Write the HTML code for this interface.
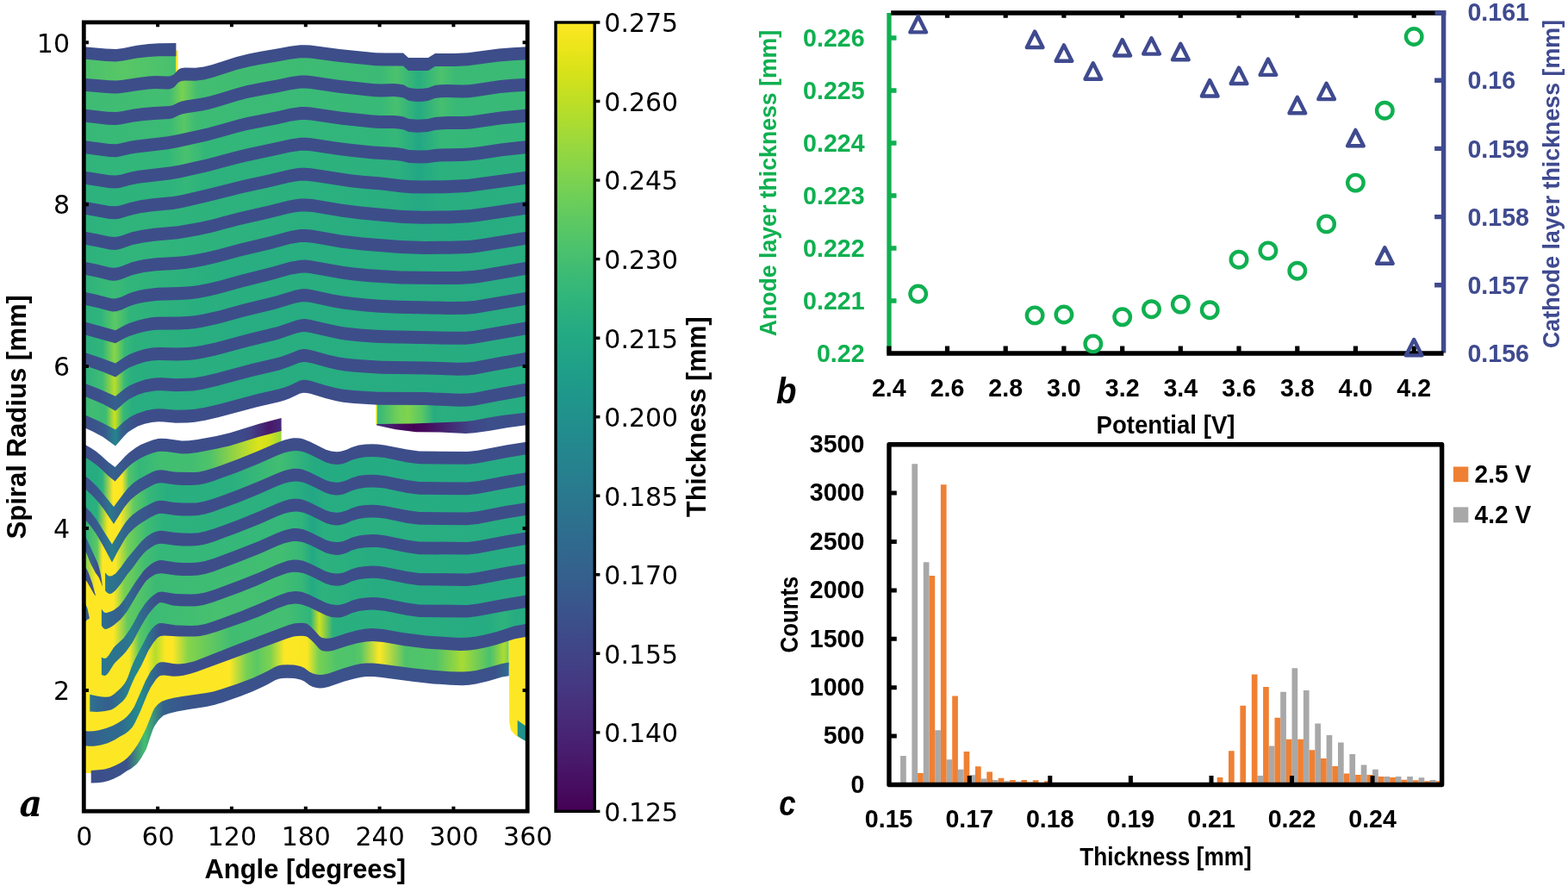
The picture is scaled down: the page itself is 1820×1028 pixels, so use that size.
<!DOCTYPE html>
<html lang="en"><head><meta charset="utf-8"><title>Spiral thickness figure</title><style>html,body{margin:0;padding:0;background:#fff;overflow:hidden}svg{display:block}</style></head><body><svg width="1820" height="1028" viewBox="0 0 1820 1028"><defs><linearGradient id="h1" gradientUnits="userSpaceOnUse" x1="97" x2="204.4" y1="0" y2="0"><stop offset="0" stop-color="#4bc16d"/><stop offset="0.453" stop-color="#58c766"/><stop offset="1" stop-color="#47c06f"/></linearGradient><linearGradient id="h2" gradientUnits="userSpaceOnUse" x1="97" x2="612.6" y1="0" y2="0"><stop offset="0" stop-color="#3ebb74"/><stop offset="0.195" stop-color="#43be71"/><stop offset="0.222" stop-color="#77d153"/><stop offset="0.257" stop-color="#42bd71"/><stop offset="0.669" stop-color="#3bba75"/><stop offset="0.704" stop-color="#4cc26c"/><stop offset="0.755" stop-color="#28ae80"/><stop offset="0.805" stop-color="#4cc26c"/><stop offset="0.837" stop-color="#3bba75"/><stop offset="1" stop-color="#3bba75"/></linearGradient><linearGradient id="h3" gradientUnits="userSpaceOnUse" x1="97" x2="612.6" y1="0" y2="0"><stop offset="0" stop-color="#37b877"/><stop offset="0.195" stop-color="#3cbb75"/><stop offset="0.226" stop-color="#58c765"/><stop offset="0.249" stop-color="#40bc72"/><stop offset="0.268" stop-color="#3cbb75"/><stop offset="0.669" stop-color="#38b977"/><stop offset="0.704" stop-color="#47c06f"/><stop offset="0.755" stop-color="#25aa83"/><stop offset="0.805" stop-color="#46bf6f"/><stop offset="0.837" stop-color="#38b977"/><stop offset="1" stop-color="#39b976"/></linearGradient><linearGradient id="h4" gradientUnits="userSpaceOnUse" x1="97" x2="612.6" y1="0" y2="0"><stop offset="0" stop-color="#30b47b"/><stop offset="0.191" stop-color="#33b779"/><stop offset="0.23" stop-color="#49c16e"/><stop offset="0.272" stop-color="#33b779"/><stop offset="0.673" stop-color="#31b57b"/><stop offset="0.704" stop-color="#36b878"/><stop offset="0.755" stop-color="#22a785"/><stop offset="0.805" stop-color="#36b878"/><stop offset="1" stop-color="#32b67a"/></linearGradient><linearGradient id="h5" gradientUnits="userSpaceOnUse" x1="97" x2="612.6" y1="0" y2="0"><stop offset="0" stop-color="#2db27d"/><stop offset="0.195" stop-color="#2fb37c"/><stop offset="0.23" stop-color="#34b779"/><stop offset="0.272" stop-color="#2db27d"/><stop offset="0.704" stop-color="#2cb17e"/><stop offset="0.755" stop-color="#22a785"/><stop offset="0.802" stop-color="#2bb17e"/><stop offset="1" stop-color="#2cb17e"/></linearGradient><linearGradient id="h6" gradientUnits="userSpaceOnUse" x1="97" x2="612.6" y1="0" y2="0"><stop offset="0" stop-color="#2db27d"/><stop offset="0.109" stop-color="#30b47b"/><stop offset="0.704" stop-color="#29ae80"/><stop offset="0.755" stop-color="#24a984"/><stop offset="0.802" stop-color="#28ae80"/><stop offset="1" stop-color="#29af80"/></linearGradient><linearGradient id="h7" gradientUnits="userSpaceOnUse" x1="97" x2="612.6" y1="0" y2="0"><stop offset="0" stop-color="#2db27d"/><stop offset="0.113" stop-color="#31b57b"/><stop offset="0.755" stop-color="#26ab82"/><stop offset="1" stop-color="#28ae80"/></linearGradient><linearGradient id="h8" gradientUnits="userSpaceOnUse" x1="97" x2="612.6" y1="0" y2="0"><stop offset="0" stop-color="#2db27d"/><stop offset="0.07" stop-color="#3aba76"/><stop offset="0.101" stop-color="#31b57a"/><stop offset="0.311" stop-color="#28ae80"/><stop offset="1" stop-color="#28ae80"/></linearGradient><linearGradient id="h9" gradientUnits="userSpaceOnUse" x1="97" x2="612.6" y1="0" y2="0"><stop offset="0" stop-color="#2bb17e"/><stop offset="0.039" stop-color="#2fb47c"/><stop offset="0.07" stop-color="#5bc864"/><stop offset="0.105" stop-color="#30b47b"/><stop offset="0.253" stop-color="#29af7f"/><stop offset="1" stop-color="#27ad81"/></linearGradient><linearGradient id="h10" gradientUnits="userSpaceOnUse" x1="97" x2="612.6" y1="0" y2="0"><stop offset="0" stop-color="#29af7f"/><stop offset="0.043" stop-color="#31b57b"/><stop offset="0.07" stop-color="#88d548"/><stop offset="0.093" stop-color="#37b877"/><stop offset="0.113" stop-color="#2cb17d"/><stop offset="0.339" stop-color="#27ad81"/><stop offset="1" stop-color="#27ad81"/></linearGradient><linearGradient id="h11" gradientUnits="userSpaceOnUse" x1="97" x2="612.6" y1="0" y2="0"><stop offset="0" stop-color="#2bb17e"/><stop offset="0.043" stop-color="#40bc73"/><stop offset="0.07" stop-color="#b7dd2a"/><stop offset="0.093" stop-color="#36b878"/><stop offset="0.109" stop-color="#29af7f"/><stop offset="1" stop-color="#27ac81"/></linearGradient><linearGradient id="h12" gradientUnits="userSpaceOnUse" x1="97" x2="612.6" y1="0" y2="0"><stop offset="0" stop-color="#35b778"/><stop offset="0.019" stop-color="#40bd72"/><stop offset="0.043" stop-color="#3cba75"/><stop offset="0.051" stop-color="#41bd72"/><stop offset="0.07" stop-color="#cee11e"/><stop offset="0.089" stop-color="#3aba75"/><stop offset="0.109" stop-color="#28ae80"/><stop offset="1" stop-color="#26ac81"/></linearGradient><linearGradient id="h13" gradientUnits="userSpaceOnUse" x1="437.2" x2="612.6" y1="0" y2="0"><stop offset="0" stop-color="#32b67a"/><stop offset="0.149" stop-color="#74d055"/><stop offset="0.207" stop-color="#7fd34e"/><stop offset="0.299" stop-color="#5ac764"/><stop offset="0.379" stop-color="#27ac81"/><stop offset="0.437" stop-color="#2aaf7f"/><stop offset="1" stop-color="#26ac82"/></linearGradient><linearGradient id="h14" gradientUnits="userSpaceOnUse" x1="97" x2="326.6" y1="0" y2="0"><stop offset="0" stop-color="#26ac81"/><stop offset="0.07" stop-color="#27ac81"/><stop offset="0.096" stop-color="#2eb37d"/><stop offset="0.149" stop-color="#fde725"/><stop offset="0.193" stop-color="#fde725"/><stop offset="0.228" stop-color="#51c46a"/><stop offset="0.281" stop-color="#33b779"/><stop offset="0.395" stop-color="#42be71"/><stop offset="0.553" stop-color="#43be71"/><stop offset="0.64" stop-color="#4fc36a"/><stop offset="0.886" stop-color="#dde31a"/><stop offset="0.939" stop-color="#d2e11c"/><stop offset="1" stop-color="#9bd93c"/></linearGradient><linearGradient id="h15" gradientUnits="userSpaceOnUse" x1="97" x2="612.6" y1="0" y2="0"><stop offset="0" stop-color="#26ac81"/><stop offset="0.031" stop-color="#2cb17e"/><stop offset="0.054" stop-color="#f2e61f"/><stop offset="0.058" stop-color="#fde725"/><stop offset="0.082" stop-color="#fde725"/><stop offset="0.113" stop-color="#60ca61"/><stop offset="0.148" stop-color="#35b779"/><stop offset="0.183" stop-color="#29af7f"/><stop offset="0.331" stop-color="#29af80"/><stop offset="0.44" stop-color="#42be71"/><stop offset="0.518" stop-color="#25ab82"/><stop offset="1" stop-color="#26ac82"/></linearGradient><linearGradient id="h16" gradientUnits="userSpaceOnUse" x1="122.1" x2="612.6" y1="0" y2="0"><stop offset="0" stop-color="#fde725"/><stop offset="0.024" stop-color="#fde725"/><stop offset="0.053" stop-color="#72d056"/><stop offset="0.098" stop-color="#3dbb74"/><stop offset="0.139" stop-color="#2db27d"/><stop offset="0.445" stop-color="#2aaf7f"/><stop offset="0.49" stop-color="#22a685"/><stop offset="0.518" stop-color="#27ad81"/><stop offset="1" stop-color="#26ac82"/></linearGradient><linearGradient id="h17" gradientUnits="userSpaceOnUse" x1="122.1" x2="612.6" y1="0" y2="0"><stop offset="0" stop-color="#fde725"/><stop offset="0.02" stop-color="#fde725"/><stop offset="0.045" stop-color="#77d153"/><stop offset="0.094" stop-color="#42bd71"/><stop offset="0.131" stop-color="#34b779"/><stop offset="0.416" stop-color="#35b878"/><stop offset="0.465" stop-color="#2fb47c"/><stop offset="0.49" stop-color="#22a685"/><stop offset="0.518" stop-color="#2ab07f"/><stop offset="1" stop-color="#26ac82"/></linearGradient><linearGradient id="h18" gradientUnits="userSpaceOnUse" x1="117.9" x2="612.6" y1="0" y2="0"><stop offset="0" stop-color="#fde725"/><stop offset="0.028" stop-color="#fde725"/><stop offset="0.061" stop-color="#62ca5f"/><stop offset="0.126" stop-color="#3cba75"/><stop offset="0.421" stop-color="#42be71"/><stop offset="0.47" stop-color="#37b877"/><stop offset="0.494" stop-color="#23a884"/><stop offset="0.518" stop-color="#2db27d"/><stop offset="0.628" stop-color="#27ac81"/><stop offset="1" stop-color="#26ac82"/></linearGradient><linearGradient id="h19" gradientUnits="userSpaceOnUse" x1="117.9" x2="612.6" y1="0" y2="0"><stop offset="0" stop-color="#fde725"/><stop offset="0.065" stop-color="#f9e723"/><stop offset="0.089" stop-color="#5ac764"/><stop offset="0.117" stop-color="#3cbb75"/><stop offset="0.267" stop-color="#47c06f"/><stop offset="0.421" stop-color="#42be71"/><stop offset="0.47" stop-color="#37b877"/><stop offset="0.494" stop-color="#24aa83"/><stop offset="0.518" stop-color="#2db27d"/><stop offset="0.64" stop-color="#27ac81"/><stop offset="1" stop-color="#26ac82"/></linearGradient><linearGradient id="h20" gradientUnits="userSpaceOnUse" x1="104.3" x2="612.6" y1="0" y2="0"><stop offset="0" stop-color="#fde725"/><stop offset="0.13" stop-color="#fde725"/><stop offset="0.15" stop-color="#b3dd2d"/><stop offset="0.173" stop-color="#fde725"/><stop offset="0.189" stop-color="#fde725"/><stop offset="0.224" stop-color="#86d44a"/><stop offset="0.323" stop-color="#41bd72"/><stop offset="0.449" stop-color="#44be71"/><stop offset="0.504" stop-color="#31b57b"/><stop offset="0.524" stop-color="#cfe11d"/><stop offset="0.555" stop-color="#2ab07f"/><stop offset="0.909" stop-color="#26ac81"/><stop offset="0.945" stop-color="#2eb37d"/><stop offset="0.969" stop-color="#27ac81"/><stop offset="1" stop-color="#26ac82"/></linearGradient><linearGradient id="h21" gradientUnits="userSpaceOnUse" x1="105.7" x2="590.7" y1="0" y2="0"><stop offset="0" stop-color="#fde725"/><stop offset="0.331" stop-color="#fde725"/><stop offset="0.372" stop-color="#76d054"/><stop offset="0.397" stop-color="#5bc864"/><stop offset="0.43" stop-color="#7ed24f"/><stop offset="0.463" stop-color="#fde725"/><stop offset="0.517" stop-color="#f9e723"/><stop offset="0.545" stop-color="#76d153"/><stop offset="0.587" stop-color="#51c469"/><stop offset="0.628" stop-color="#4ec36b"/><stop offset="0.645" stop-color="#59c765"/><stop offset="0.69" stop-color="#fde725"/><stop offset="0.752" stop-color="#4ec36b"/><stop offset="0.826" stop-color="#53c568"/><stop offset="0.888" stop-color="#a7db34"/><stop offset="0.955" stop-color="#49c16e"/><stop offset="0.988" stop-color="#acdc31"/><stop offset="1" stop-color="#73d055"/></linearGradient><linearGradient id="h22" gradientUnits="userSpaceOnUse" x1="97" x2="119" y1="0" y2="0"><stop offset="0" stop-color="#2ab07f"/><stop offset="0.727" stop-color="#5dc863"/><stop offset="1" stop-color="#fde725"/></linearGradient><linearGradient id="h23" gradientUnits="userSpaceOnUse" x1="97" x2="111" y1="0" y2="0"><stop offset="0" stop-color="#64cb5e"/><stop offset="1" stop-color="#fde725"/></linearGradient><linearGradient id="h24" gradientUnits="userSpaceOnUse" x1="97" x2="204.4" y1="0" y2="0"><stop offset="0" stop-color="#3d4d8a"/><stop offset="1" stop-color="#3c4e8a"/></linearGradient><linearGradient id="h25" gradientUnits="userSpaceOnUse" x1="97" x2="612.6" y1="0" y2="0"><stop offset="0" stop-color="#3d4d8a"/><stop offset="0.072" stop-color="#3a548c"/><stop offset="0.122" stop-color="#3d4d8a"/><stop offset="1" stop-color="#3d4d8a"/></linearGradient><linearGradient id="h26" gradientUnits="userSpaceOnUse" x1="97" x2="612.6" y1="0" y2="0"><stop offset="0" stop-color="#3d4d8a"/><stop offset="0.044" stop-color="#3b518b"/><stop offset="0.072" stop-color="#34608d"/><stop offset="0.122" stop-color="#3d4d8a"/><stop offset="1" stop-color="#3d4d8a"/></linearGradient><linearGradient id="h27" gradientUnits="userSpaceOnUse" x1="97" x2="612.6" y1="0" y2="0"><stop offset="0" stop-color="#3d4d8a"/><stop offset="0.048" stop-color="#385a8d"/><stop offset="0.072" stop-color="#25858e"/><stop offset="0.087" stop-color="#355f8d"/><stop offset="0.122" stop-color="#3d4d8a"/><stop offset="1" stop-color="#3d4d8a"/></linearGradient><linearGradient id="h28" gradientUnits="userSpaceOnUse" x1="437.2" x2="612.6" y1="0" y2="0"><stop offset="0" stop-color="#46347f"/><stop offset="0.148" stop-color="#470e61"/><stop offset="0.25" stop-color="#440255"/><stop offset="0.33" stop-color="#470b5e"/><stop offset="0.625" stop-color="#404688"/><stop offset="0.75" stop-color="#3c4f8a"/><stop offset="1" stop-color="#3d4d8a"/></linearGradient><linearGradient id="h29" gradientUnits="userSpaceOnUse" x1="97" x2="326.6" y1="0" y2="0"><stop offset="0" stop-color="#3d4d8a"/><stop offset="0.089" stop-color="#3b518b"/><stop offset="0.151" stop-color="#34618d"/><stop offset="0.237" stop-color="#3c508b"/><stop offset="0.792" stop-color="#3d4b8a"/><stop offset="0.844" stop-color="#414387"/><stop offset="0.939" stop-color="#48186a"/><stop offset="1" stop-color="#472978"/></linearGradient><linearGradient id="h30" gradientUnits="userSpaceOnUse" x1="97" x2="612.6" y1="0" y2="0"><stop offset="0" stop-color="#3d4d8a"/><stop offset="0.038" stop-color="#375a8d"/><stop offset="0.06" stop-color="#2b768e"/><stop offset="0.095" stop-color="#375b8d"/><stop offset="0.173" stop-color="#3d4d8a"/><stop offset="1" stop-color="#3d4d8a"/></linearGradient><linearGradient id="h31" gradientUnits="userSpaceOnUse" x1="97" x2="612.6" y1="0" y2="0"><stop offset="0" stop-color="#3d4d8a"/><stop offset="0.036" stop-color="#355f8d"/><stop offset="0.064" stop-color="#287c8e"/><stop offset="0.095" stop-color="#34628d"/><stop offset="0.173" stop-color="#3d4d8a"/><stop offset="1" stop-color="#3d4d8a"/></linearGradient><linearGradient id="h32" gradientUnits="userSpaceOnUse" x1="122.1" x2="612.6" y1="0" y2="0"><stop offset="0" stop-color="#29798e"/><stop offset="0.131" stop-color="#3d4d8a"/><stop offset="1" stop-color="#3d4d8a"/></linearGradient><linearGradient id="h33" gradientUnits="userSpaceOnUse" x1="117.9" x2="612.6" y1="0" y2="0"><stop offset="0" stop-color="#2e6e8e"/><stop offset="0.04" stop-color="#35608d"/><stop offset="0.061" stop-color="#2f6b8e"/><stop offset="0.101" stop-color="#3d4d8a"/><stop offset="1" stop-color="#3d4d8a"/></linearGradient><linearGradient id="h34" gradientUnits="userSpaceOnUse" x1="117.9" x2="612.6" y1="0" y2="0"><stop offset="0" stop-color="#2a778e"/><stop offset="0.049" stop-color="#2c728e"/><stop offset="0.073" stop-color="#297a8e"/><stop offset="0.13" stop-color="#3c4e8a"/><stop offset="1" stop-color="#3d4d8a"/></linearGradient><linearGradient id="h35" gradientUnits="userSpaceOnUse" x1="104.3" x2="612.6" y1="0" y2="0"><stop offset="0" stop-color="#2d718e"/><stop offset="0.043" stop-color="#355f8d"/><stop offset="0.094" stop-color="#25848e"/><stop offset="0.118" stop-color="#25858e"/><stop offset="0.161" stop-color="#3c4f8a"/><stop offset="0.185" stop-color="#3c4e8a"/><stop offset="1" stop-color="#3d4d8a"/></linearGradient><linearGradient id="h36" gradientUnits="userSpaceOnUse" x1="97" x2="612.6" y1="0" y2="0"><stop offset="0" stop-color="#365c8d"/><stop offset="0.054" stop-color="#30698e"/><stop offset="0.081" stop-color="#30698e"/><stop offset="0.128" stop-color="#228c8d"/><stop offset="0.171" stop-color="#38598d"/><stop offset="0.202" stop-color="#3c4e8a"/><stop offset="1" stop-color="#3d4d8a"/></linearGradient><linearGradient id="h37" gradientUnits="userSpaceOnUse" x1="105.7" x2="590.7" y1="0" y2="0"><stop offset="0" stop-color="#3d4d8a"/><stop offset="0.086" stop-color="#3a538b"/><stop offset="0.128" stop-color="#44be70"/><stop offset="0.173" stop-color="#34618d"/><stop offset="0.23" stop-color="#3a558c"/><stop offset="0.403" stop-color="#3b518b"/><stop offset="0.967" stop-color="#3b528b"/><stop offset="1" stop-color="#2f6c8e"/></linearGradient><linearGradient id="h38" gradientUnits="userSpaceOnUse" x1="97" x2="119" y1="0" y2="0"><stop offset="0" stop-color="#3a548c"/><stop offset="0.364" stop-color="#32658d"/><stop offset="0.727" stop-color="#3c4e8a"/><stop offset="1" stop-color="#3c4e8a"/></linearGradient><linearGradient id="h39" gradientUnits="userSpaceOnUse" x1="97" x2="103.6" y1="0" y2="0"><stop offset="0" stop-color="#287c8e"/><stop offset="1" stop-color="#3d4d8a"/></linearGradient><linearGradient id="cb" x1="0" x2="0" y1="0" y2="1"><stop offset="0" stop-color="#fde725"/><stop offset="0.0312" stop-color="#ece51b"/><stop offset="0.0625" stop-color="#d8e219"/><stop offset="0.0938" stop-color="#c2df23"/><stop offset="0.125" stop-color="#addc30"/><stop offset="0.1562" stop-color="#98d83e"/><stop offset="0.1875" stop-color="#84d44b"/><stop offset="0.2188" stop-color="#70cf57"/><stop offset="0.25" stop-color="#5ec962"/><stop offset="0.2812" stop-color="#4ec36b"/><stop offset="0.3125" stop-color="#3fbc73"/><stop offset="0.3438" stop-color="#32b67a"/><stop offset="0.375" stop-color="#28ae80"/><stop offset="0.4062" stop-color="#22a785"/><stop offset="0.4375" stop-color="#1fa088"/><stop offset="0.4688" stop-color="#1f988b"/><stop offset="0.5" stop-color="#21918c"/><stop offset="0.5312" stop-color="#23898e"/><stop offset="0.5625" stop-color="#26828e"/><stop offset="0.5938" stop-color="#297a8e"/><stop offset="0.625" stop-color="#2c728e"/><stop offset="0.6562" stop-color="#2f6b8e"/><stop offset="0.6875" stop-color="#33638d"/><stop offset="0.7188" stop-color="#375b8d"/><stop offset="0.75" stop-color="#3b528b"/><stop offset="0.7812" stop-color="#3e4989"/><stop offset="0.8125" stop-color="#424086"/><stop offset="0.8438" stop-color="#453781"/><stop offset="0.875" stop-color="#472d7b"/><stop offset="0.9062" stop-color="#482374"/><stop offset="0.9375" stop-color="#48186a"/><stop offset="0.9688" stop-color="#470d60"/><stop offset="1" stop-color="#440154"/></linearGradient><filter id="soft" filterUnits="userSpaceOnUse" x="-10" y="-10" width="1840" height="1048" color-interpolation-filters="sRGB"><feGaussianBlur stdDeviation="0.55"/></filter></defs><rect width="1820" height="1028" fill="#fff"/><g filter="url(#soft)"><rect x="-10" y="-10" width="1840" height="1048" fill="#fff"/><g id="heat"><path d="M97,606L127,606L127,812L106.5,812L106.5,897L97,897Z" fill="#fde725"/><path d="M97,64.6L121.3,67L133.5,67.5L139.6,67.1L157.8,63.7L174,61.8L186.2,61.2L204.4,61.2L204.4,87.6L202.4,89.9L200.3,91.3L196.3,92.4L192.2,92.6L180.1,92.1L172,92.5L159.8,94L141.6,96.9L135.5,97.5L127.4,97.4L97,94.7Z" fill="url(#h1)"/><path d="M97,101.7L127.1,104.4L135.1,104.6L141.1,104L159.2,101.1L171.2,99.6L179.3,99.1L193.3,99.6L197.3,99.2L199.3,98.7L201.3,97.7L207.3,91.5L209.3,90.5L211.4,89.9L215.4,89.6L223.4,89.9L227.4,89.7L237.4,88.2L247.5,85.7L273.5,77.4L287.6,73.7L301.6,70.9L323.7,67.2L335.7,64.9L347.8,63.3L353.8,63.1L359.8,63.6L393.9,68.1L436.1,72.2L446.1,72.5L468.2,72.5L474.2,78L496.2,78L498.2,77.2L504.3,73.5L506.3,73L526.3,72.9L542.4,72.3L550.4,71.5L578.5,67.6L594.5,66.3L612.6,65.3L612.6,94.7L594.5,95.9L580.5,97.2L546.4,102L538.4,102.4L518.3,102L510.3,102.4L504.3,103.2L498.2,105.5L496.2,106L490.2,106.7L484.2,106.9L478.2,106.4L474.2,105.6L468.2,102.5L462.1,101.3L456.1,101L440.1,101.5L434,101.1L393.9,96.9L359.8,92L353.8,91.5L347.8,91.7L337.7,93.1L323.7,96.2L301.6,100L285.6,103.4L275.6,106L251.5,113.4L241.4,116.1L233.4,117.8L217.4,120.2L211.4,121.4L207.3,122.8L201.3,125.9L197.3,126.8L177.2,128L167.2,128.9L155.2,130.6L141.1,133.3L135.1,134.1L125.1,133.7L97,130.5Z" fill="url(#h2)"/><path d="M97,137.5L125.1,140.7L135.1,141.1L141.1,140.3L155.2,137.6L167.2,135.9L177.2,135L197.3,133.8L201.3,132.9L207.3,129.8L211.4,128.4L217.4,127.2L233.4,124.8L241.4,123.1L251.5,120.4L275.6,113L285.6,110.4L301.6,107L323.7,103.2L337.7,100.1L347.8,98.7L353.8,98.5L359.8,99L393.9,103.9L434,108.1L440.1,108.5L456.1,108L462.1,108.3L468.2,109.5L474.2,112.6L478.2,113.4L484.2,113.9L490.2,113.7L496.2,113L498.2,112.5L504.3,110.2L510.3,109.4L518.3,109L538.4,109.4L546.4,109L580.5,104.2L594.5,102.9L612.6,101.7L612.6,130.5L580.5,133.6L546.4,138.6L538.4,139L512.3,139.3L504.3,140.2L496.2,142.1L490.2,142.7L484.2,142.8L478.2,142.4L474.2,141.7L468.2,139.5L462.1,138.4L456.1,138L440.1,137.9L432,137.3L395.9,133.6L359.8,128.4L353.8,128L347.8,128.1L337.7,129.6L321.7,133.1L287.6,139.9L275.6,142.8L249.5,150.3L239.4,153L205.3,160.4L195.3,162.2L157.2,166.8L151.2,167.8L139.1,170.6L135.1,171.1L127.1,170.9L97,166.9Z" fill="url(#h3)"/><path d="M97,173.9L127.1,177.9L135.1,178.1L139.1,177.6L151.2,174.8L157.2,173.8L195.3,169.2L205.3,167.4L239.4,160L249.5,157.3L275.6,149.8L287.6,146.9L321.7,140.1L337.7,136.6L347.8,135.1L353.8,135L359.8,135.4L395.9,140.6L432,144.3L440.1,144.9L456.1,145L462.1,145.4L468.2,146.5L474.2,148.7L478.2,149.4L484.2,149.8L490.2,149.7L496.2,149.1L504.3,147.2L512.3,146.3L538.4,146L546.4,145.6L580.5,140.6L612.6,137.5L612.6,166.9L580.5,170.5L546.4,175.4L536.4,176L512.3,176.5L504.3,177.2L496.2,178.3L486.2,178.6L474.2,177.8L468.2,176.4L460.1,175.3L434,173.5L412,171.4L393.9,169.2L363.8,164.6L355.8,163.8L349.8,163.7L343.8,164.4L335.7,165.7L319.7,169.4L285.6,176.5L273.5,179.5L241.4,188.2L207.3,195.8L197.3,197.4L169.2,200.6L159.2,202.1L151.2,203.7L137.1,207.3L133.1,207.6L127.1,207.2L97,202.6Z" fill="url(#h4)"/><path d="M97,209.6L127.1,214.2L133.1,214.6L137.1,214.3L151.2,210.7L159.2,209.1L169.2,207.6L197.3,204.4L207.3,202.8L241.4,195.2L273.5,186.5L285.6,183.5L319.7,176.4L335.7,172.7L343.8,171.4L349.8,170.7L355.8,170.8L363.8,171.6L393.9,176.2L412,178.4L434,180.5L460.1,182.3L468.2,183.4L474.2,184.8L486.2,185.6L496.2,185.3L504.3,184.2L512.3,183.5L536.4,183L546.4,182.4L580.5,177.5L612.6,173.9L612.6,202.6L578.5,207L552.4,210.8L542.4,211.9L516.3,213.3L490.2,213.6L468.2,212.6L442.1,209.6L418,207.5L397.9,205L363.8,199.6L355.8,198.8L349.8,198.8L343.8,199.4L335.7,200.8L309.7,207L283.6,212.5L239.4,223.7L211.4,230.1L201.3,231.8L177.2,234.2L163.2,236.2L151.2,238.8L141.1,242L137.1,243L133.1,243.3L127.1,242.9L97,237.6Z" fill="url(#h5)"/><path d="M97,244.6L127.1,249.9L133.1,250.3L137.1,250L141.1,249L151.2,245.8L163.2,243.2L177.2,241.2L201.3,238.8L211.4,237.1L239.4,230.7L283.6,219.5L309.7,214L335.7,207.8L343.8,206.4L349.8,205.8L355.8,205.8L363.8,206.6L397.9,212L418,214.5L442.1,216.6L468.2,219.6L490.2,220.6L516.3,220.3L542.4,218.9L552.4,217.8L578.5,214L612.6,209.6L612.6,237.6L554.4,246.1L544.4,247.3L520.3,248.5L490.2,248.7L466.1,247.8L418,243.4L395.9,240.6L363.8,235.3L355.8,234.4L349.8,234.4L343.8,235.1L335.7,236.6L311.7,242.6L279.6,249.9L247.5,258.3L231.4,262L207.3,266.3L179.3,268.7L165.2,270.6L153.2,273.3L141.1,277.5L135.1,278.9L131.1,279L127.1,278.5L113,275.5L97,272.6Z" fill="url(#h6)"/><path d="M97,279.6L113,282.5L127.1,285.5L131.1,286L135.1,285.9L141.1,284.5L153.2,280.3L165.2,277.6L179.3,275.7L207.3,273.3L231.4,269L247.5,265.3L279.6,256.9L311.7,249.6L335.7,243.6L343.8,242.1L349.8,241.4L355.8,241.4L363.8,242.3L395.9,247.6L418,250.4L466.1,254.8L490.2,255.7L520.3,255.5L544.4,254.3L554.4,253.1L612.6,244.6L612.6,272.6L556.4,281.4L546.4,282.7L524.3,283.8L492.2,283.8L464.1,283L420,279.5L395.9,276.6L361.8,270.7L355.8,270L349.8,270L343.8,270.7L335.7,272.3L315.7,277.8L281.6,286L251.5,293.9L237.4,297.2L225.4,299.5L213.4,301L203.3,301.9L181.3,303.2L167.2,305L159.2,306.6L153.2,308.2L139.1,313.7L135.1,314.6L131.1,314.7L127.1,314.2L113,310.8L97,307.6Z" fill="url(#h7)"/><path d="M97,314.6L113,317.8L127.1,321.2L131.1,321.7L135.1,321.6L139.1,320.7L153.2,315.2L159.2,313.6L167.2,312L181.3,310.2L203.3,308.9L213.4,308L225.4,306.5L237.4,304.2L251.5,300.9L281.6,293L315.7,284.8L335.7,279.3L343.8,277.7L349.8,277L355.8,277L361.8,277.7L395.9,283.6L420,286.5L464.1,290L492.2,290.8L524.3,290.8L546.4,289.7L556.4,288.4L612.6,279.6L612.6,307.6L558.4,316.7L548.4,318.1L532.4,319L506.3,319.1L464.1,318.4L444.1,317.4L426,316L410,314.4L397.9,312.9L361.8,306.3L355.8,305.7L349.8,305.6L343.8,306.4L335.7,308.1L313.7,314.4L279.6,323L251.5,330.5L239.4,333.3L229.4,335.2L221.4,336.2L209.3,336.9L183.3,337.7L169.2,339.3L161.2,341L153.2,343.2L149.2,344.7L139.1,349.3L135.1,350.3L131.1,350.4L127.1,349.8L113,346.1L97,342.6Z" fill="url(#h8)"/><path d="M97,349.6L113,353.1L127.1,356.8L131.1,357.4L135.1,357.3L139.1,356.3L149.2,351.7L153.2,350.2L161.2,348L169.2,346.3L183.3,344.7L209.3,343.9L221.4,343.2L229.4,342.2L239.4,340.3L251.5,337.5L279.6,330L313.7,321.4L335.7,315.1L343.8,313.4L349.8,312.6L355.8,312.7L361.8,313.3L397.9,319.9L410,321.4L426,323L444.1,324.4L464.1,325.4L506.3,326.1L532.4,326L548.4,325.1L558.4,323.7L612.6,314.6L612.6,342.6L550.4,352.9L540.4,353.8L520.3,353.9L462.1,352.7L442.1,351.8L424,350.4L410,349.1L397.9,347.5L387.9,345.7L361.8,340.1L355.8,339.3L349.8,339.2L341.8,340.9L321.7,347L281.6,357L253.5,364.6L235.4,368.6L225.4,370.3L215.4,371.2L181.3,371.8L175.2,372.4L167.2,373.9L159.2,376L151.2,378.6L145.1,381.2L135.1,386.6L133.1,387L97,376.9Z" fill="url(#h9)"/><path d="M97,383.9L133.1,394L135.1,393.6L145.1,388.2L151.2,385.6L159.2,383L167.2,380.9L175.2,379.4L181.3,378.8L215.4,378.2L225.4,377.3L235.4,375.6L253.5,371.6L281.6,364L321.7,354L341.8,347.9L349.8,346.2L355.8,346.3L361.8,347.1L387.9,352.7L397.9,354.5L410,356.1L424,357.4L442.1,358.8L462.1,359.7L520.3,360.9L540.4,360.8L550.4,359.9L612.6,349.6L612.6,376.9L550.4,387.8L540.4,388.7L526.3,388.8L450.1,387.3L434,386.6L416,385.2L404,384L393.9,382.5L383.9,380.5L361.8,375.2L355.8,374.2L351.8,374.1L345.8,375.2L321.7,383.1L287.6,391.4L251.5,401.1L235.4,404.6L225.4,406.2L217.4,407L205.3,407.4L183.3,407L177.2,407.5L169.2,408.9L161.2,411.1L151.2,414.8L145.1,418L135.1,424.7L133.1,425.1L115.1,418.6L97,412.6Z" fill="url(#h10)"/><path d="M97,419.6L119.1,427.3L133.1,433.1L135.1,432.6L145.1,425.4L151.2,422L159.2,418.7L167.2,416.4L175.2,414.7L181.3,414.1L187.3,413.9L205.3,414.4L213.4,414.2L225.4,413.2L235.4,411.6L251.5,408.1L287.6,398.4L321.7,390.1L345.8,382.2L351.8,381.1L355.8,381.2L361.8,382.2L383.9,387.5L393.9,389.5L404,391L416,392.2L434,393.6L450.1,394.3L526.3,395.8L540.4,395.7L550.4,394.8L612.6,383.9L612.6,412.6L576.5,418.8L550.4,423.7L542.4,424.5L530.3,424.7L496.2,423.4L442.1,422.7L412,420.7L399.9,419.4L391.9,418.1L379.9,415.3L361.8,410.4L355.8,409.2L351.8,409.1L347.8,409.8L331.7,416.1L323.7,418.7L297.6,424.8L253.5,436.5L237.4,440.2L227.4,441.9L217.4,442.9L205.3,443.2L189.3,442.3L183.3,442.3L177.2,442.8L169.2,444.3L159.2,447.5L151.2,451L145.1,454.7L135.1,462.7L133.1,463.3L115.1,455.3L97,448.3Z" fill="url(#h11)"/><path d="M97,455.3L119.1,464.6L133.1,472.2L135.1,471.6L145.1,462.6L151.2,458.5L159.2,454.5L169.2,451.3L177.2,449.8L183.3,449.3L189.3,449.3L205.3,450.2L217.4,449.9L227.4,448.9L237.4,447.2L253.5,443.5L297.6,431.8L323.7,425.7L331.7,423.1L347.8,416.8L351.8,416.1L355.8,416.2L361.8,417.4L379.9,422.3L391.9,425.1L399.9,426.4L412,427.7L442.1,429.7L496.2,430.4L530.3,431.7L542.4,431.5L550.4,430.7L576.5,425.8L612.6,419.6L612.6,448.3L578.5,454.2L550.4,459.8L542.4,460.7L532.4,460.8L494.2,459.1L438.1,458.7L410,457L397.9,455.6L389.9,454.2L377.9,451.1L359.8,445.7L355.8,444.9L351.8,444.7L347.8,445.7L337.7,450.6L325.7,454.9L297.6,461.4L253.5,473.2L237.4,476.8L227.4,478.6L217.4,479.5L203.3,479.7L189.3,478.5L183.3,478.3L177.2,478.8L169.2,480.4L159.2,483.9L151.2,487.9L145.1,492.2L135.1,501.5L133.1,502.1L115.1,492.7L97,484.7Z" fill="url(#h12)"/><path d="M437.2,465.7L493.7,466.1L527.9,467.7L542,467.7L554.1,466.2L576.3,461.7L612.6,455.3L612.6,482.4L586.4,485.5L568.2,488.4L550.1,491.8L538,493.2L475.5,495.6L459.4,494.8L437.2,492.8Z" fill="url(#h13)"/><path d="M97,525.6L105.1,530.4L113.1,536.2L117.1,539.7L125.2,547.7L133.3,554.3L135.3,552.6L147.4,539.2L153.4,533.9L157.4,531L163.5,527.4L171.5,523.8L177.6,521.5L183.6,520L187.6,519.8L193.7,520.2L205.8,521.9L211.8,522.5L219.9,522.2L229.9,520.8L252.1,516.6L266.2,513.4L276.2,510.5L300.4,502.8L326.6,495.9L326.6,515.8L318.5,519L298.4,527.9L280.3,535.2L250.1,546.4L238,550.2L227.9,551.9L213.8,552.1L201.7,551.4L189.6,549.4L185.6,549.2L181.6,549.9L177.6,551.3L163.5,558.5L157.4,562.6L153.4,565.8L149.4,569.6L145.3,574.2L133.3,590.2L131.2,591L119.2,576.1L113.1,569.2L105.1,561.4L97,554.7Z" fill="url(#h14)"/><path d="M97,561.5L107,570.9L115.1,579.8L121.1,587.7L131.1,602.6L133.1,602.2L145.1,583.5L149.2,578.6L153.2,574.6L157.2,571.1L163.2,566.8L173.2,560.9L179.3,557.9L183.3,556.6L187.3,556.2L205.3,558.7L223.4,559.1L229.4,558.7L237.4,557.3L249.5,553.6L279.6,542.4L299.6,534.2L325.7,523L331.7,520.8L337.7,519.5L343.8,519.1L347.8,519.4L351.8,520.2L359.8,523.4L377.9,532.3L383.9,534.1L389.9,535L393.9,534.8L397.9,534L401.9,532.6L410,529.2L416,527.5L424,526.4L432,526L438.1,526.2L446.1,527.1L474.2,532.7L486.2,534.3L492.2,534.5L512.3,534.4L534.4,534.9L542.4,534.8L554.4,533.4L588.5,526.9L612.6,523L612.6,551.9L588.5,555.7L554.4,562.3L542.4,563.6L534.4,563.7L512.3,563.2L492.2,563.3L486.2,563.1L474.2,561.4L446.1,555.8L438.1,554.9L432,554.7L424,555.1L416,556.2L410,557.9L399.9,562.1L395.9,563.2L391.9,563.7L385.9,563.2L379.9,561.8L373.9,559.1L359.8,552L351.8,548.8L347.8,548L343.8,547.7L339.8,547.9L335.7,548.5L329.7,550.1L321.7,553.2L299.6,562.9L275.6,572.5L249.5,582.1L237.4,585.8L229.4,587.3L221.4,587.7L211.4,587.5L203.3,587.1L187.3,584.7L183.3,585.1L179.3,586.3L173.2,589.1L161.2,595.9L155.2,600.2L151.2,603.8L147.2,608.4L143.1,614L131.1,633.5L129.1,634L111,605.5L105,597.9L97,589.7Z" fill="url(#h15)"/><path d="M122.1,633.8L130.1,648.2L136.1,636.8L144.1,622.7L146.1,619.6L150.1,614.5L156.1,608.6L162.1,604.1L176.2,595.4L182.2,592.6L186.2,591.7L188.2,591.7L204.2,594.1L220.2,594.6L230.2,594.1L238.2,592.6L248.2,589.5L276.3,579.1L298.3,570.3L322.3,559.8L330.3,556.8L336.3,555.2L340.3,554.7L344.3,554.6L348.3,555L352.3,555.8L360.3,559.1L378.4,568L384.4,569.8L390.4,570.5L394.4,570.3L398.4,569.3L402.4,568L408.4,565.2L416.4,562.9L424.4,561.8L432.4,561.5L438.4,561.7L446.4,562.6L472.5,567.9L486.5,569.8L542.5,570.3L554.5,568.9L586.6,562.7L612.6,558.5L612.6,586.9L586.6,591.1L554.5,597.2L542.5,598.6L486.5,598.1L472.5,596.1L446.4,590.9L438.4,590L432.4,589.7L424.4,590.1L416.4,591.1L408.4,593.4L402.4,596.2L398.4,597.5L394.4,598.5L390.4,598.7L384.4,597.9L378.4,596.2L360.3,587.3L352.3,584L348.3,583.1L344.3,582.7L340.3,582.8L336.3,583.3L330.3,584.9L322.3,587.9L300.3,597.6L276.3,607.2L248.2,617.6L238.2,620.6L230.2,622.2L222.2,622.7L212.2,622.6L204.2,622.1L188.2,619.8L184.2,619.9L180.2,620.9L176.2,622.8L170.1,626.7L164.1,632.2L148.1,651.3L140.1,662.4L134.1,669.4L130.1,672.1L128.1,672.6L126.1,672.3L124.1,670.7L122.1,668.3Z" fill="url(#h16)"/><path d="M122.1,681.3L124.1,683.4L126.1,684.8L128.1,685L130.1,684.2L134.1,681.1L140.1,673.6L148.1,662.1L154.1,654.8L160.1,646.3L166.1,638.7L170.1,634.7L172.2,633.2L176.2,630.5L180.2,628.3L184.2,627L188.2,626.7L204.2,629.1L212.2,629.5L222.2,629.6L230.2,629.1L238.2,627.6L248.2,624.5L276.3,614.1L300.3,604.5L322.3,594.8L330.3,591.8L336.3,590.2L340.3,589.7L344.3,589.6L348.3,590L352.3,590.8L360.3,594.1L378.4,603L384.4,604.8L390.4,605.5L394.4,605.3L398.4,604.3L402.4,603L408.4,600.2L416.4,597.9L424.4,596.8L432.4,596.5L438.4,596.7L446.4,597.6L472.5,602.9L486.5,604.8L542.5,605.3L554.5,603.9L586.6,597.7L612.6,593.5L612.6,621.2L586.6,625.4L554.5,631.5L542.5,632.9L486.5,632.4L472.5,630.4L446.4,625.2L438.4,624.3L432.4,624L424.4,624.4L416.4,625.4L408.4,627.7L402.4,630.5L398.4,631.8L394.4,632.8L390.4,633L384.4,632.2L378.4,630.5L360.3,621.6L352.3,618.3L348.3,617.4L344.3,617L340.3,617.1L336.3,617.6L330.3,619.2L322.3,622.2L298.3,632.7L276.3,641.5L248.2,651.9L238.2,654.9L230.2,656.5L222.2,656.9L204.2,656.4L188.2,654L184.2,654.2L180.2,655.6L176.2,657.9L172.2,661L168.1,664.8L166.1,667.1L158.1,678L144.1,699.6L140.1,705L138.1,707.2L134.1,710.4L130.1,712.8L126.1,714.5L124.1,715.1L122.1,715.1Z" fill="url(#h17)"/><path d="M117.9,722L119.9,724.7L121.9,726L123.9,725.8L127.9,724.1L131.9,721.6L139.9,714.7L143.9,710.1L147.9,704.7L162,680.9L168,671.9L170,669.4L174,666.2L180,662.6L184,661.4L188,661.2L204,663.6L212,664L222,664.1L230.1,663.6L238.1,662.1L248.1,659L276.1,648.6L300.2,639L322.2,629.3L330.2,626.3L336.2,624.7L340.2,624.1L344.2,624L348.2,624.4L352.2,625.2L360.2,628.5L378.3,637.4L384.3,639.1L390.3,639.9L394.3,639.7L398.3,638.8L402.3,637.4L408.3,634.6L416.3,632.3L424.3,631.2L432.3,630.9L438.4,631.1L446.4,632L472.4,637.2L486.4,639.2L542.5,639.6L554.5,638.2L588.6,631.7L612.6,627.8L612.6,657.7L588.6,661.5L554.5,668L542.5,669.4L486.4,668.9L472.4,666.9L446.4,661.7L438.4,660.8L432.3,660.5L424.3,660.9L416.3,661.9L408.3,664.3L402.3,667L398.3,668.4L394.3,669.3L390.3,669.5L384.3,668.7L378.3,667L360.2,658L352.2,654.8L348.2,653.9L344.2,653.5L340.2,653.6L334.2,654.6L322.2,658.8L300.2,668.4L278.1,677.3L250.1,687.7L238.1,691.5L230.1,693L222,693.4L204,693L188,690.4L184,691L182,691.9L178,694.7L174,698.1L168,705.1L162,714.1L154,728.7L149.9,735.4L143.9,743.9L141.9,746.1L133.9,753.3L131.9,755.6L125.9,764.7L123.9,766.9L121.9,768L119.9,767.7L117.9,766.5Z" fill="url(#h18)"/><path d="M117.9,778.8L119.9,779.8L121.9,780L123.9,778.8L125.9,776.4L131.9,766.9L133.9,764.4L141.9,756.7L145.9,752.4L149.9,747.1L154,741L162,725.7L168,715.3L172,709.1L176,704L180,699.5L184,696.1L186,695L190,695.5L200,698.5L208,699.3L226.1,699.4L230.1,699L236.1,698L248.1,694.5L278.1,683.4L298.2,675.4L318.2,666.6L328.2,662.7L334.2,660.8L340.2,659.8L346.2,659.9L352.2,661L360.2,664.2L378.3,673.2L384.3,675L390.3,675.8L394.3,675.6L398.3,674.7L402.3,673.3L408.3,670.6L416.3,668.3L424.3,667.2L432.3,666.8L438.4,667.1L446.4,668L472.4,673.3L486.4,675.3L542.5,675.9L554.5,674.6L588.6,668.1L612.6,664.3L612.6,694.2L588.6,698L554.5,704.5L542.5,705.9L486.4,705.4L472.4,703.4L446.4,698.2L438.4,697.3L432.3,697L424.3,697.4L416.3,698.4L408.3,700.8L402.3,703.5L398.3,704.9L394.3,705.8L390.3,706L384.3,705.2L378.3,703.5L360.2,694.5L352.2,691.3L348.2,690.4L344.2,690L340.2,690.1L334.2,691.1L322.2,695.3L300.2,704.9L278.1,713.8L250.1,724.2L238.1,728L230.1,729.5L222,729.9L204,729.5L188,727L184,727.5L182,728.4L180,729.8L176,733.8L172,739.6L156,770.4L147.9,790.9L145.9,794.9L143.9,798L139.9,802.7L135.9,806.5L129.9,811.1L125.9,812.5L121.9,812.7L117.9,812.4Z" fill="url(#h19)"/><path d="M104.3,821.6L112.3,821.9L118.3,821.6L122.3,821.1L128.3,819.8L130.3,819L134.3,816.4L142.3,809.7L144.3,807.5L146.3,804.8L148.3,801L152.3,791L156.3,782.1L164.3,767.7L172.3,750.7L178.3,741.3L182.3,736.6L184.3,735L186.3,733.9L190.4,733.6L208.4,734.6L226.4,734.4L232.4,733.9L240.4,732.3L250.4,729.3L284.4,717.5L300.4,711.4L322.4,701.8L334.4,697.6L342.4,696.6L346.4,696.8L350.4,697.4L358.4,700.3L378.5,710.1L384.5,711.9L390.5,712.6L394.5,712.4L398.5,711.4L402.5,710L408.5,707.3L416.5,705L424.5,704L432.5,703.6L438.5,703.9L446.5,704.8L472.5,710L486.5,712L542.6,712.5L554.6,711.1L586.6,705L612.6,700.8L612.6,727.4L596.6,730.6L576.6,737L562.6,740.6L552.6,742.6L544.6,743.6L534.6,743.9L524.5,743.6L494.5,741.4L470.5,738.5L444.5,734L432.5,733.1L424.5,733.6L414.5,735.3L402.5,738.6L388.5,743.3L384.5,744.3L380.5,744.8L376.5,744.5L372.5,743.2L370.5,741.6L364.5,734.9L360.5,731L356.4,728L354.4,727.3L350.4,726.7L344.4,727L340.4,727.7L334.4,729.5L298.4,742.8L226.4,771L216.4,773.4L208.4,774.3L202.4,774.2L190.4,772.2L186.3,772.4L184.3,773L182.3,774.4L180.3,776.2L174.3,784.1L168.3,795.4L156.3,822.7L152.3,829.4L148.3,834.3L144.3,838L140.3,840.8L134.3,844.2L128.3,847L120.3,849.8L114.3,851.4L108.3,852.4L104.3,852.6Z" fill="url(#h20)"/><path d="M105.7,861.9L109.7,861.7L115.7,860.7L125.7,857.9L131.8,855.1L139.8,850.3L143.8,848.2L147.8,845.5L149.8,843.8L153.8,839.2L157.8,832.3L163.8,819.2L171.8,799.8L175.8,791.9L179.9,785.8L181.9,783.4L183.9,781.4L185.9,780.2L189.9,779.5L201.9,780.7L205.9,780.7L211.9,779.9L219.9,778L230,774.9L334.2,736.6L340.2,734.7L344.2,734L350.2,733.7L354.2,734.2L356.2,734.9L360.2,737.8L364.2,741.6L370.2,748.3L372.2,750L374.3,751L376.3,751.5L380.3,751.8L384.3,751.3L388.3,750.4L402.3,745.7L412.3,742.8L420.3,741.2L428.4,740.2L434.4,740.1L442.4,740.8L468.4,745.2L492.5,748.2L518.6,750.3L536.6,750.9L546.6,750.4L558.6,748.5L576.7,743.9L590.7,739.3L590.7,772.5L582.7,773.9L566.7,778.6L552.6,781.9L544.6,783.2L536.6,783.5L522.6,783.1L504.5,781.9L480.5,779.4L440.4,774.1L432.4,773.5L424.4,773.5L418.3,774.2L410.3,776L398.3,779.5L382.3,785.2L376.3,786.6L372.2,787L366.2,786.4L362.2,785.1L360.2,784L352.2,778.5L348.2,777L344.2,776L340.2,775.5L332.2,775.3L326.2,775.7L322.1,776.5L318.1,778.3L308.1,783.9L294.1,790.4L278.1,796.6L258,803.4L248,806.2L238,808.4L213.9,811.7L201.9,813.7L193.9,815.7L187.9,817.9L183.9,820.6L181.9,822.6L179.9,825.2L177.8,828.4L175.8,832.8L169.8,848.3L163.8,860.9L159.8,867.8L155.8,873.8L151.8,879L147.8,883.3L143.8,886.6L139.8,889.2L133.8,892.3L127.7,894.6L121.7,896.4L117.7,897.1L105.7,898Z" fill="url(#h21)"/><path d="M97,596.7L103,603.4L109,611.3L113,617.4L119,628L119,680.2L115,662.4L113,656.4L101,630L99,626.3L97,623.5Z" fill="url(#h22)"/><path d="M97,631.5L99,635L101,639.4L105,649.6L111,661.1L111,691.2L103,669.3L101,665.1L99,662.3L97,660.5Z" fill="url(#h23)"/><path d="M590.7,742L612.6,738L612.6,861L606,857.5L598,853L593,847L591.2,838Z" fill="#fde725"/><path d="M600.7,835.7L612.6,844L612.6,861L606,857.5L600.7,854Z" fill="#21918c"/><rect x="204.1" y="58.5" width="2.4" height="25" fill="#fde725"/><rect x="436.4" y="468" width="1.4" height="25" fill="#e0e31a"/><path d="M97,54.3L122.9,56.6L134.8,56.9L142.7,55.9L158.7,52.8L172.6,51L184.5,50.2L204.4,50L204.4,65.2L184.5,65.3L172.6,65.9L158.7,67.6L142.7,70.6L134.8,71.5L122.9,71.1L97,68.6Z" fill="url(#h24)"/><path d="M97,90.7L126.9,93.3L134.9,93.6L140.9,93L160.8,89.9L172.8,88.4L180.8,88.1L192.7,88.6L196.7,88.4L200.7,87.1L202.7,85.6L206.7,80.9L208.7,79.7L210.7,79.1L214.7,78.6L226.7,78.8L236.6,77.4L246.6,75L274.5,66.1L288.5,62.5L302.4,59.7L324.4,56.1L336.4,53.8L348.3,52.2L354.3,52.2L360.3,52.6L394.2,57.1L436.1,61.2L448.1,61.5L468,61.4L474,67L497,67L505,62L526.9,61.9L542.9,61.3L578.7,56.6L594.7,55.3L612.6,54.3L612.6,69.3L594.7,70.3L578.7,71.6L542.9,76.3L526.9,76.9L505,77L497,82L474,82L468,76.4L448.1,76.5L436.1,76.2L394.2,72.1L360.3,67.6L354.3,67.2L348.3,67.2L336.4,68.8L324.4,71.1L302.4,74.7L288.5,77.5L274.5,81.1L246.6,90L236.6,92.4L226.7,93.8L214.7,93.6L210.7,94.1L208.7,94.7L206.7,95.9L202.7,100.6L200.7,102.1L196.7,103.4L192.7,103.6L180.8,103.1L172.8,103.4L160.8,104.9L140.9,108L134.9,108.6L126.9,108.3L97,105.7Z" fill="#3d4d8a"/><path d="M97,126.5L125,129.7L135,130.1L141,129.3L155,126.6L166.9,125L178.9,123.9L196.9,122.9L200.9,122L206.9,119L210.9,117.5L216.9,116.3L234.9,113.5L242.9,111.8L252.9,109L274.9,102.2L286.9,99.1L300.8,96.2L322.8,92.3L336.8,89.3L348.8,87.6L354.8,87.6L360.8,88.1L392.8,92.8L434.7,97.2L442.7,97.5L456.7,97L462.7,97.4L468.7,98.6L472.7,101.1L474.7,101.8L478.7,102.5L484.7,102.9L490.7,102.7L496.7,101.9L504.7,99.1L510.7,98.3L518.7,98L536.7,98.4L544.7,98.2L552.6,97.3L570.6,94.4L580.6,93.1L594.6,91.8L612.6,90.7L612.6,105.7L594.6,106.8L580.6,108.1L570.6,109.4L552.6,112.3L544.7,113.2L536.7,113.4L518.7,113L510.7,113.3L504.7,114.1L496.7,116.9L490.7,117.7L484.7,117.9L478.7,117.5L474.7,116.8L472.7,116.1L468.7,113.6L462.7,112.4L456.7,112L442.7,112.5L434.7,112.2L392.8,107.8L360.8,103.1L354.8,102.6L348.8,102.6L336.8,104.3L322.8,107.3L300.8,111.2L286.9,114.1L274.9,117.2L252.9,124L242.9,126.8L234.9,128.5L216.9,131.3L210.9,132.5L206.9,134L200.9,137L196.9,137.9L178.9,138.9L166.9,140L155,141.6L141,144.3L135,145.1L125,144.7L97,141.5Z" fill="#3d4d8a"/><path d="M97,162.9L127,166.9L135,167.2L139,166.6L151,163.8L157,162.8L194.9,158.2L206.9,156.1L240.9,148.6L274.9,139L286.9,136L322.8,128.9L336.8,125.7L348.8,124.1L354.8,124L360.8,124.5L396.8,129.7L432.7,133.4L440.7,133.9L456.7,134.1L462.7,134.5L468.7,135.6L472.7,137.3L474.7,137.9L484.7,138.8L496.7,138.1L504.7,136.1L510.7,135.4L518.7,135.1L538.7,135L546.7,134.6L580.6,129.6L612.6,126.5L612.6,141.5L580.6,144.6L546.7,149.6L538.7,150L518.7,150.1L510.7,150.4L504.7,151.1L496.7,153.1L484.7,153.8L474.7,152.9L472.7,152.3L468.7,150.6L462.7,149.5L456.7,149.1L440.7,148.9L432.7,148.4L396.8,144.7L360.8,139.5L354.8,139L348.8,139.1L336.8,140.7L322.8,143.9L286.9,151L274.9,154L240.9,163.6L206.9,171.1L194.9,173.2L157,177.8L151,178.8L139,181.6L135,182.2L127,181.9L97,177.9Z" fill="#3d4d8a"/><path d="M97,198.6L127,203.2L133,203.6L137,203.3L141,202.5L151,199.7L161,197.8L196.9,193.5L208.9,191.5L240.9,184.3L272.9,175.7L284.9,172.7L318.8,165.6L336.8,161.5L348.8,159.8L354.8,159.7L360.8,160.2L392.8,165L406.8,166.8L432.7,169.4L458.7,171.1L466.7,172.1L474.7,173.9L486.7,174.6L496.7,174.3L504.7,173.1L510.7,172.6L536.7,172L544.7,171.6L554.6,170.4L582.6,166.3L612.6,162.9L612.6,177.9L582.6,181.3L554.6,185.4L544.7,186.6L536.7,187L510.7,187.6L504.7,188.1L496.7,189.3L486.7,189.6L474.7,188.9L466.7,187.1L458.7,186.1L432.7,184.4L406.8,181.8L392.8,180L360.8,175.2L354.8,174.7L348.8,174.8L336.8,176.5L318.8,180.6L284.9,187.7L272.9,190.7L240.9,199.3L208.9,206.5L196.9,208.5L161,212.8L151,214.7L141,217.5L137,218.3L133,218.6L127,218.2L97,213.6Z" fill="#3d4d8a"/><path d="M97,233.6L127,238.9L133,239.3L137,239L141,238.1L151,234.9L162.9,232.3L176.9,230.3L200.9,227.9L210.9,226.2L240.9,219.3L282.9,208.7L310.8,202.7L334.8,197L342.8,195.5L348.8,194.8L354.8,194.8L362.8,195.5L406.8,202.2L420.7,203.7L442.7,205.6L464.7,208.3L476.7,209.2L490.7,209.6L516.7,209.3L542.7,207.9L612.6,198.6L612.6,213.6L542.7,222.9L516.7,224.3L490.7,224.6L476.7,224.2L464.7,223.3L442.7,220.6L420.7,218.7L406.8,217.2L362.8,210.5L354.8,209.8L348.8,209.8L342.8,210.5L334.8,212L310.8,217.7L282.9,223.7L240.9,234.3L210.9,241.2L200.9,242.9L176.9,245.3L162.9,247.3L151,249.9L141,253.1L137,254L133,254.3L127,253.9L97,248.6Z" fill="#3d4d8a"/><path d="M97,268.6L113,271.5L127,274.5L133,275L137,274.6L141,273.5L153,269.3L164.9,266.7L178.9,264.7L206.9,262.3L230.9,258.1L246.9,254.4L278.9,246.1L310.8,238.8L334.8,232.8L342.8,231.2L348.8,230.4L354.8,230.4L362.8,231.1L396.8,236.8L418.8,239.5L466.7,243.9L490.7,244.7L520.7,244.5L544.7,243.3L554.6,242.1L612.6,233.6L612.6,248.6L554.6,257.1L544.7,258.3L520.7,259.5L490.7,259.7L466.7,258.9L418.8,254.5L396.8,251.8L362.8,246.1L354.8,245.4L348.8,245.4L342.8,246.2L334.8,247.8L310.8,253.8L278.9,261.1L246.9,269.4L230.9,273.1L206.9,277.3L178.9,279.7L164.9,281.7L153,284.3L141,288.5L137,289.6L133,290L127,289.5L113,286.5L97,283.6Z" fill="#3d4d8a"/><path d="M97,303.6L113,306.8L127,310.2L131,310.7L135,310.6L141,309L153,304.3L159,302.7L166.9,301L180.9,299.2L202.9,298L214.9,296.9L224.9,295.5L236.9,293.3L250.9,290L280.9,282.1L314.8,274L336.8,268.1L348.8,266L354.8,266L362.8,266.8L396.8,272.7L420.7,275.6L464.7,279.1L492.7,279.9L522.7,279.8L544.7,278.9L556.6,277.4L612.6,268.6L612.6,283.6L556.6,292.4L544.7,293.9L522.7,294.8L492.7,294.9L464.7,294.1L420.7,290.6L396.8,287.7L362.8,281.8L354.8,281L348.8,281L336.8,283.1L314.8,289L280.9,297.1L250.9,305L236.9,308.3L224.9,310.5L214.9,311.9L202.9,313L180.9,314.2L166.9,316L159,317.7L153,319.3L141,324L135,325.6L131,325.7L127,325.2L113,321.8L97,318.6Z" fill="#3d4d8a"/><path d="M97,338.6L113,342.1L127,345.8L131,346.4L135,346.3L141,344.5L149,340.8L153,339.3L161,337L168.9,335.4L182.9,333.8L208.9,332.9L220.9,332.2L228.9,331.2L240.9,329L252.9,326.2L280.9,318.6L314.8,310.1L336.8,303.8L348.8,301.7L354.8,301.6L360.8,302.2L398.8,309L412.8,310.7L428.7,312.3L464.7,314.4L508.7,315.1L532.7,315L548.6,314.1L558.6,312.7L612.6,303.6L612.6,318.6L558.6,327.7L548.6,329.1L532.7,330L508.7,330.1L464.7,329.4L428.7,327.3L412.8,325.7L398.8,324L360.8,317.2L354.8,316.6L348.8,316.7L336.8,318.8L314.8,325.1L280.9,333.6L252.9,341.2L240.9,344L228.9,346.2L220.9,347.2L208.9,347.9L182.9,348.8L168.9,350.4L161,352L153,354.3L149,355.8L141,359.5L135,361.3L131,361.4L127,360.8L113,357.1L97,353.6Z" fill="#3d4d8a"/><path d="M97,372.9L134,383.2L144,377.8L150,375.1L160,371.7L168,369.7L176.1,368.3L182.1,367.7L208.1,367.5L218.1,367L226.1,366.2L236.1,364.5L254.2,360.4L282.2,352.8L320.2,343.4L342.3,336.7L350.3,335.2L356.3,335.3L362.3,336.2L386.3,341.4L398.3,343.6L410.3,345.1L424.4,346.5L440.4,347.7L462.4,348.7L520.5,349.9L540.5,349.7L550.5,348.9L612.6,338.6L612.6,353.6L550.5,363.9L540.5,364.7L520.5,364.9L462.4,363.7L440.4,362.7L424.4,361.5L410.3,360.1L398.3,358.6L386.3,356.4L362.3,351.2L356.3,350.3L350.3,350.2L342.3,351.7L320.2,358.4L282.2,367.8L254.2,375.4L236.1,379.5L226.1,381.2L218.1,382L208.1,382.5L182.1,382.7L176.1,383.3L168,384.7L160,386.7L150,390.1L144,392.8L134,398.2L97,387.9Z" fill="#3d4d8a"/><path d="M97,408.6L115.5,414.8L134,421.4L144,414.7L150,411.3L158,408.1L168,405.1L176.1,403.6L184.1,402.9L206.1,403.4L218.1,402.9L226.1,402.2L236.1,400.5L250.1,397.4L288.2,387.2L322.2,378.9L344.3,371.6L350.3,370.2L354.3,370.1L360.3,370.9L384.3,376.6L396.3,379L406.3,380.3L418.4,381.4L436.4,382.7L450.4,383.3L526.5,384.8L540.5,384.7L550.5,383.8L612.6,372.9L612.6,387.9L550.5,398.8L540.5,399.7L526.5,399.8L450.4,398.3L436.4,397.7L418.4,396.4L406.3,395.3L396.3,394L384.3,391.6L360.3,385.9L354.3,385.1L350.3,385.2L344.3,386.6L322.2,393.9L288.2,402.2L250.1,412.4L236.1,415.5L226.1,417.2L218.1,417.9L206.1,418.4L184.1,417.9L176.1,418.6L168,420.1L160,422.4L150,426.6L144,430.2L134,437.4L119.6,431.5L97,423.6Z" fill="url(#h25)"/><path d="M97,444.3L115.5,451.5L134,459.7L144,451.5L150,447.6L158,443.9L168,440.6L176.1,438.9L182.1,438.3L188.1,438.3L204.1,439.2L212.1,439.1L224.1,438.4L236.1,436.4L250.1,433.3L292.2,422.1L324.2,414.5L334.3,411.1L346.3,406.3L350.3,405.2L352.3,405L356.3,405.3L362.3,406.5L380.3,411.4L392.3,414.2L400.3,415.5L412.3,416.8L442.4,418.7L496.5,419.4L530.5,420.7L542.5,420.5L550.5,419.7L576.6,414.8L612.6,408.6L612.6,423.6L576.6,429.8L550.5,434.7L542.5,435.5L530.5,435.7L496.5,434.4L442.4,433.7L412.3,431.8L400.3,430.5L392.3,429.2L380.3,426.4L362.3,421.5L356.3,420.3L352.3,420L350.3,420.2L346.3,421.3L334.3,426.1L324.2,429.5L292.2,437.1L250.1,448.3L236.1,451.4L224.1,453.4L212.1,454.1L204.1,454.2L188.1,453.3L182.1,453.3L176.1,453.9L168,455.6L160,458.1L150,463.1L144,467.5L134,476.7L119.6,468.8L97,459.3Z" fill="url(#h26)"/><path d="M97,480.7L115.5,488.9L134,498.6L144,489.1L150,484.6L154,482.3L160,479.5L170,476.2L178.1,474.7L184.1,474.3L190.1,474.5L204.1,475.7L216.1,475.6L226.1,474.8L238.1,472.7L254.2,469L298.2,457.3L324.2,451.3L330.2,449.5L336.3,447.2L348.3,441.5L352.3,440.7L356.3,441L360.3,441.8L378.3,447.2L390.3,450.3L398.3,451.7L410.3,453L438.4,454.7L494.5,455.1L532.5,456.8L542.5,456.6L550.5,455.8L578.6,450.2L612.6,444.3L612.6,459.3L578.6,465.2L550.5,470.8L542.5,471.6L532.5,471.8L494.5,470.1L438.4,469.7L410.3,468L398.3,466.7L390.3,465.3L378.3,462.2L360.3,456.8L356.3,456L352.3,455.7L348.3,456.5L336.3,462.2L330.2,464.5L324.2,466.3L298.2,472.3L254.2,484L238.1,487.7L226.1,489.8L218.1,490.5L204.1,490.7L190.1,489.5L184.1,489.3L176.1,490L168,491.7L160,494.5L154,497.9L150,500.6L148,502.1L144,506.1L134,517.6L119.6,507.1L107.3,500.6L97,495.7Z" fill="url(#h27)"/><path d="M437.2,492.1L479.1,491.5L540.8,489L550.8,487.7L568.8,484.3L584.7,481.7L612.6,478.4L612.6,493L588.7,496.3L568.8,499.8L550.8,502.2L540.8,503L510.9,501.5L483,501.3L459.1,498.3L437.2,493.6Z" fill="url(#h28)"/><path d="M97,515L105.1,519.5L111.2,523.6L117.3,528.5L125.5,536.1L133.6,542L145.5,529.3L149.5,525.6L153.5,522.4L157.5,519.6L163.4,516.1L169.4,513.4L177.4,510.4L183.3,509L187.3,508.8L193.3,509.1L211.2,511.5L219.2,511.3L229.1,510L251,505.9L266.9,502.3L300.7,491.8L326.6,485L326.6,499.9L300.7,506.7L266.9,517.2L251,520.8L229.1,524.9L219.2,526.3L211.2,526.4L193.3,524.1L187.3,523.8L183.3,524.1L177.4,525.5L169.4,528.6L163.4,531.4L157.5,535L153.5,537.8L149.5,541.1L145.5,545.1L133.6,558.6L125.5,552L117.3,543.9L113.3,540.4L105.1,534.4L97,529.6Z" fill="url(#h29)"/><path d="M97,550.7L104.8,557.1L112.6,564.6L118.4,571.2L132,588L144,571.9L148,567.1L152,563L156,559.6L162,555.4L172.1,549.9L178.1,547.1L182.1,545.7L186.1,545.2L190.1,545.4L200.1,547.2L206.1,547.8L224.1,548.1L230.1,547.7L238.1,546.1L248.1,543.1L276.2,532.8L300.2,523.1L322.2,513.5L330.2,510.5L336.3,508.9L340.3,508.3L344.3,508.2L348.3,508.6L352.3,509.5L360.3,512.7L378.3,521.7L384.3,523.4L390.3,524.2L394.3,524L398.3,523.1L402.3,521.7L408.3,518.9L416.4,516.6L424.4,515.6L432.4,515.2L438.4,515.5L446.4,516.4L472.4,521.6L486.4,523.6L542.5,524.1L554.5,522.7L588.6,516.2L612.6,512.4L612.6,527L588.6,530.9L554.5,537.4L542.5,538.8L486.4,538.3L472.4,536.4L446.4,531.1L438.4,530.2L432.4,530L424.4,530.3L416.4,531.4L408.3,533.7L402.3,536.5L398.3,537.9L394.3,538.8L390.3,539L384.3,538.2L378.3,536.5L360.3,527.6L352.3,524.3L348.3,523.5L344.3,523.1L340.3,523.2L336.3,523.7L330.2,525.3L322.2,528.3L300.2,538L276.2,547.7L248.1,558L238.1,561.1L230.1,562.6L222.1,563.1L212.1,563L204.1,562.6L188.1,560.2L184.1,560.5L180.1,561.6L174.1,564.4L164,570.3L158,574.5L152,579.6L148,583.9L144,589.1L132,608L120.3,590.6L114.5,583.1L106.7,574.6L97,565.5Z" fill="url(#h30)"/><path d="M97,585.7L105.2,594.1L111.4,602L130,631.4L142,611.7L146,605.8L150,601L154,597.2L160,592.7L166,589.1L178.1,582.8L182.1,581.3L186.1,580.7L190.1,580.9L202.1,582.9L212.1,583.6L228.1,583.4L238.1,581.6L248.1,578.6L276.2,568.3L300.2,558.6L322.2,549L330.2,546L336.3,544.4L340.3,543.8L344.3,543.7L348.3,544.1L352.3,545L360.3,548.2L378.3,557.2L384.3,558.9L390.3,559.7L394.3,559.5L398.3,558.6L402.3,557.2L408.3,554.4L416.4,552.1L424.4,551.1L432.4,550.7L438.4,551L446.4,551.9L472.4,557.1L486.4,559.1L542.5,559.6L554.5,558.2L588.6,551.7L612.6,547.9L612.6,562.5L588.6,566.4L554.5,572.9L542.5,574.3L486.4,573.8L472.4,571.9L446.4,566.6L438.4,565.7L432.4,565.5L424.4,565.8L416.4,566.9L408.3,569.2L402.3,572L398.3,573.4L394.3,574.3L390.3,574.5L384.3,573.7L378.3,572L360.3,563.1L352.3,559.8L348.3,559L344.3,558.6L340.3,558.7L336.3,559.2L330.2,560.8L322.2,563.8L300.2,573.5L276.2,583.2L248.1,593.5L238.1,596.6L230.1,598.1L222.1,598.6L212.1,598.5L204.1,598.1L188.1,595.7L184.1,596L180.1,597.4L174.1,600.6L162,608.1L156,612.7L150,618.6L146,623.8L144,626.9L136,641L130,652.4L119.7,633.2L111.4,618.9L105.2,610.2L97,600.7Z" fill="url(#h31)"/><path d="M122.1,664.3L124.1,666.7L126.1,668.3L128.1,668.6L130.1,668.1L134.1,665.4L140.1,658.4L148.1,647.3L164.1,628.2L170.1,622.7L176.2,618.8L180.2,616.9L184.2,615.9L188.2,615.8L204.2,618.1L212.2,618.6L222.2,618.7L230.2,618.2L238.2,616.6L248.2,613.6L276.3,603.2L300.3,593.6L322.3,583.9L330.3,580.9L336.3,579.3L340.3,578.8L344.3,578.7L348.3,579.1L352.3,580L360.3,583.3L378.4,592.2L384.4,593.9L390.4,594.7L394.4,594.5L398.4,593.5L402.4,592.2L408.4,589.4L416.4,587.1L424.4,586.1L432.4,585.7L438.4,586L446.4,586.9L472.5,592.1L486.5,594.1L542.5,594.6L554.5,593.2L586.6,587.1L612.6,582.9L612.6,597.5L586.6,601.7L554.5,607.9L542.5,609.3L486.5,608.8L472.5,606.9L446.4,601.6L438.4,600.7L432.4,600.5L424.4,600.8L416.4,601.9L408.4,604.2L402.4,607L398.4,608.3L394.4,609.3L390.4,609.5L384.4,608.8L378.4,607L360.3,598.1L352.3,594.8L348.3,594L344.3,593.6L340.3,593.7L336.3,594.2L330.3,595.8L322.3,598.8L300.3,608.5L276.3,618.1L248.2,628.5L238.2,631.6L230.2,633.1L222.2,633.6L212.2,633.5L204.2,633.1L188.2,630.7L184.2,631L180.2,632.3L176.2,634.5L172.2,637.2L170.1,638.7L166.1,642.7L160.1,650.3L154.1,658.8L148.1,666.1L140.1,677.6L134.1,685.1L130.1,688.2L128.1,689L126.1,688.8L124.1,687.4L122.1,685.3Z" fill="url(#h32)"/><path d="M117.9,706.5L119.9,709.5L121.9,711.1L123.9,711.1L127.9,709.8L131.9,707.9L137.9,703.4L139.9,701.3L143.9,695.9L158,674.3L166,663.3L168,660.9L172,657.2L176,654L180,651.7L184,650.3L188,650L204,652.4L212,652.9L222,653L230.1,652.5L238.1,651L248.1,647.9L276.1,637.6L300.2,627.9L322.2,618.3L330.2,615.3L336.2,613.7L340.2,613.1L344.2,613L348.2,613.4L352.2,614.3L360.2,617.5L378.3,626.5L384.3,628.2L390.3,629L394.3,628.8L398.3,627.9L402.3,626.5L408.3,623.8L416.3,621.4L424.3,620.4L432.3,620L438.4,620.3L446.4,621.2L472.4,626.4L486.4,628.4L542.5,628.9L554.5,627.5L588.6,621L612.6,617.2L612.6,631.8L588.6,635.7L554.5,642.2L542.5,643.6L486.4,643.2L472.4,641.2L446.4,636L438.4,635.1L432.3,634.9L424.3,635.2L416.3,636.3L408.3,638.6L402.3,641.4L398.3,642.8L394.3,643.7L390.3,643.9L384.3,643.1L378.3,641.4L360.2,632.5L352.2,629.2L348.2,628.4L344.2,628L340.2,628.1L336.2,628.7L330.2,630.3L322.2,633.3L300.2,643L276.1,652.6L248.1,663L238.1,666.1L230.1,667.6L222,668.1L212,668L204,667.6L188,665.2L184,665.4L180,666.6L174,670.2L170,673.4L168,675.9L162,684.9L147.9,708.7L143.9,714.1L139.9,718.7L131.9,725.6L127.9,728.1L123.9,729.8L121.9,730L119.9,728.7L117.9,726Z" fill="url(#h33)"/><path d="M117.9,762.5L119.9,763.7L121.9,764L123.9,762.9L125.9,760.7L131.9,751.6L133.9,749.3L141.9,742.1L143.9,739.9L149.9,731.4L154,724.7L162,710.1L168,701.1L174,694.1L178,690.7L182,687.9L184,687L188,686.4L204,689L222,689.4L230.1,689L238.1,687.5L250.1,683.7L278.1,673.3L300.2,664.4L322.2,654.8L334.2,650.6L340.2,649.6L344.2,649.5L348.2,649.9L352.2,650.8L360.2,654L378.3,663L384.3,664.7L390.3,665.5L394.3,665.3L398.3,664.4L402.3,663L408.3,660.3L416.3,657.9L424.3,656.9L432.3,656.5L438.4,656.8L446.4,657.7L472.4,662.9L486.4,664.9L542.5,665.4L554.5,664L588.6,657.5L612.6,653.7L612.6,668.3L588.6,672.1L554.5,678.6L542.5,679.9L486.4,679.3L472.4,677.3L446.4,672L438.4,671.1L432.3,670.8L424.3,671.2L416.3,672.3L408.3,674.6L402.3,677.3L398.3,678.7L394.3,679.6L390.3,679.8L384.3,679L378.3,677.2L360.2,668.2L352.2,665L346.2,663.9L340.2,663.8L334.2,664.8L328.2,666.7L318.2,670.6L298.2,679.4L278.1,687.4L248.1,698.5L236.1,702L230.1,703L226.1,703.4L208,703.3L200,702.5L190,699.5L186,699L184,700.1L180,703.5L176,708L172,713.1L168,719.3L162,729.7L154,745L149.9,751.1L145.9,756.4L141.9,760.7L133.9,768.4L131.9,770.9L125.9,780.4L123.9,782.8L121.9,784L119.9,783.8L117.9,782.8Z" fill="url(#h34)"/><path d="M104.3,805.7L112.3,807.5L118.3,808.5L122.3,808.8L126.3,808.5L128.3,807.9L132.3,805.5L140.3,798.3L144.3,793.5L146.3,790.3L148.3,786.1L152.3,775.1L156.3,765.6L172.3,734.9L176.3,729.4L180.3,725.5L182.3,724.2L184.3,723.3L188.3,723L204.4,725.5L222.4,725.9L230.4,725.5L238.4,723.9L248.4,720.8L278.4,709.7L300.4,700.8L322.4,691.2L334.4,687L342.4,686L346.4,686.2L350.4,686.8L358.4,689.7L378.5,699.5L384.5,701.3L390.5,702L394.5,701.8L398.5,700.8L402.5,699.4L408.5,696.7L416.5,694.4L424.5,693.4L432.5,693L438.5,693.3L446.5,694.2L472.5,699.4L486.5,701.4L542.6,701.9L554.6,700.5L586.6,694.4L612.6,690.2L612.6,704.8L586.6,709L554.6,715.1L542.6,716.5L486.5,716L472.5,714L446.5,708.8L438.5,707.9L432.5,707.6L424.5,708L416.5,709L408.5,711.3L402.5,714L398.5,715.4L394.5,716.4L390.5,716.6L384.5,715.9L378.5,714.1L358.4,704.3L350.4,701.4L346.4,700.8L342.4,700.6L334.4,701.6L322.4,705.8L300.4,715.4L284.4,721.5L250.4,733.3L240.4,736.3L232.4,737.9L226.4,738.4L208.4,738.6L190.4,737.6L186.3,737.9L184.3,739L182.3,740.6L178.3,745.3L172.3,754.7L164.3,771.7L156.3,786.1L152.3,795L148.3,805L146.3,808.8L144.3,811.5L142.3,813.7L134.3,820.4L130.3,823L128.3,823.8L122.3,825.1L118.3,825.6L112.3,825.9L104.3,825.6Z" fill="url(#h35)"/><path d="M97,848L103,848.6L109,848.3L115,847.3L123,844.9L131,841.9L137,838.8L143,835L147,831.7L151,827.3L155,821.4L157,817.4L168.9,790.1L174.9,779.1L180.9,771.6L182.9,769.8L184.9,768.7L186.9,768.3L190.9,768.3L200.9,770.1L206.9,770.4L214.9,769.7L224.9,767.4L228.9,766.1L266.9,751L300.8,737.9L334.8,725.3L340.8,723.6L344.8,722.9L350.8,722.8L354.8,723.3L356.8,724.1L360.8,727.3L364.8,731.2L370.8,737.9L372.8,739.4L374.8,740.2L378.8,740.8L382.8,740.6L386.8,739.8L402.8,734.5L414.8,731.3L424.7,729.5L432.7,729.1L444.7,730.1L468.7,734.2L494.7,737.4L524.7,739.6L534.7,739.9L544.7,739.6L552.6,738.6L562.6,736.6L576.6,732.9L596.6,726.5L612.6,723.4L612.6,738.4L596.6,741.5L576.6,747.9L562.6,751.6L552.6,753.6L544.7,754.6L534.7,754.9L524.7,754.6L494.7,752.4L468.7,749.2L444.7,745.1L432.7,744.1L424.7,744.5L414.8,746.3L402.8,749.5L386.8,754.8L382.8,755.6L378.8,755.8L374.8,755.2L372.8,754.4L370.8,752.9L364.8,746.2L360.8,742.3L356.8,739.1L354.8,738.3L350.8,737.8L344.8,737.9L340.8,738.6L332.8,741.1L228.9,779.2L220.9,781.7L212.9,783.8L206.9,784.6L200.9,784.7L190.9,783.5L186.9,783.8L184.9,784.6L182.9,786.2L180.9,788.4L174.9,797.4L170.9,805.8L162.9,825.2L157,838L155,841.6L153,844.4L149,848.6L145,851.5L139,854.7L133,858.4L125,862.2L117,864.4L109,865.7L103,865.8L97,865Z" fill="url(#h36)"/><path d="M105.7,894L117.7,893.1L121.7,892.4L127.7,890.7L133.6,888.3L139.6,885.3L143.6,882.7L147.6,879.4L151.6,875.2L155.6,870.1L159.6,864.2L163.6,857.3L169.6,845L177.6,824.9L179.5,821.6L183.5,816.9L187.5,814.1L193.5,811.8L201.5,809.8L211.5,808L239.4,804.1L247.4,802.4L257.4,799.6L275.4,793.5L293.3,786.7L305.3,781.3L311.3,778.3L319.3,773.7L323.3,772.2L327.2,771.6L333.2,771.3L341.2,771.6L345.2,772.2L349.2,773.3L353.2,775L359.2,779.4L363.2,781.5L367.2,782.6L371.2,783L375.1,782.8L381.1,781.5L399.1,775.3L411.1,771.8L419.1,770.1L425,769.4L433,769.5L441,770.2L478.9,775.2L502.9,777.8L522.8,779.2L536.8,779.5L544.8,779.1L552.8,777.9L566.7,774.5L582.7,769.9L590.7,768.5L590.7,784.2L582.7,785.6L566.7,790.2L552.8,793.6L544.8,794.8L536.8,795.2L522.8,794.8L502.9,793.4L478.9,790.8L441,785.8L433,785.1L425,785L419.1,785.7L411.1,787.4L399.1,790.8L381.1,797.1L375.1,798.3L371.2,798.5L367.2,798.1L363.2,797L359.2,794.9L353.2,790.6L349.2,788.8L345.2,787.7L341.2,787.1L333.2,786.8L327.2,787.1L323.3,787.7L319.3,789.2L311.3,793.8L305.3,796.8L293.3,802.3L279.3,807.7L259.4,814.7L249.4,817.7L239.4,820L219.5,822.9L205.5,825.5L195.5,828.1L189.5,830.3L185.5,833.9L183.5,836.2L179.5,842.2L177.6,846.3L175.6,851.7L169.6,869.4L163.6,879.9L159.6,885.5L157.6,887.6L151.6,892.3L147.6,894.3L139.6,899.8L131.6,903.7L125.7,905.9L119.7,907.4L113.7,908.2L105.7,908.6Z" fill="url(#h37)"/><path d="M97,619.5L99,622.3L101,626L113,652.4L115,658.4L117,667L119,680L119,680.5L115,670.5L113,667.5L111,665.1L105,653.6L101,643.4L99,639L97,635.5Z" fill="url(#h38)"/><path d="M97,656.5L99,658.3L101,661.1L103,665.3L107,676.6L111,691L111,691.5L109,688.9L101,675L99,672.8L97,671.5Z" fill="#3d4d8a"/><path d="M97,699L99.2,700.8L101.4,705.7L103.6,716L103.6,718L101.4,718.7L99.2,721.3L97,721Z" fill="url(#h39)"/></g>
<path d="M183.1,27.9 v3.4 M183.1,939.2 v-3.4 M268.9,27.9 v3.4 M268.9,939.2 v-3.4 M354.8,27.9 v3.4 M354.8,939.2 v-3.4 M440.6,27.9 v3.4 M440.6,939.2 v-3.4 M526.4,27.9 v3.4 M526.4,939.2 v-3.4 M99.3,49.3 h3.6 M610.2,49.3 h-3.6 M99.3,237.2 h3.6 M610.2,237.2 h-3.6 M99.3,425.1 h3.6 M610.2,425.1 h-3.6 M99.3,613 h3.6 M610.2,613 h-3.6 M99.3,800.9 h3.6 M610.2,800.9 h-3.6" stroke="#000" stroke-width="4" fill="none"/>
<rect x="97.3" y="25.9" width="514.9" height="915.3" fill="none" stroke="#000" stroke-width="4.8"/>
<text x="81" y="60.5" font-family='"DejaVu Sans", "Liberation Sans", sans-serif' font-size="30" fill="#000" text-anchor="end">10</text>
<text x="81" y="248.4" font-family='"DejaVu Sans", "Liberation Sans", sans-serif' font-size="30" fill="#000" text-anchor="end">8</text>
<text x="81" y="436.3" font-family='"DejaVu Sans", "Liberation Sans", sans-serif' font-size="30" fill="#000" text-anchor="end">6</text>
<text x="81" y="624.2" font-family='"DejaVu Sans", "Liberation Sans", sans-serif' font-size="30" fill="#000" text-anchor="end">4</text>
<text x="81" y="812.1" font-family='"DejaVu Sans", "Liberation Sans", sans-serif' font-size="30" fill="#000" text-anchor="end">2</text>
<text x="97.8" y="980.6" font-family='"DejaVu Sans", "Liberation Sans", sans-serif' font-size="30" fill="#000" text-anchor="middle">0</text>
<text x="183.6" y="980.6" font-family='"DejaVu Sans", "Liberation Sans", sans-serif' font-size="30" fill="#000" text-anchor="middle">60</text>
<text x="269.4" y="980.6" font-family='"DejaVu Sans", "Liberation Sans", sans-serif' font-size="30" fill="#000" text-anchor="middle">120</text>
<text x="355.3" y="980.6" font-family='"DejaVu Sans", "Liberation Sans", sans-serif' font-size="30" fill="#000" text-anchor="middle">180</text>
<text x="441.1" y="980.6" font-family='"DejaVu Sans", "Liberation Sans", sans-serif' font-size="30" fill="#000" text-anchor="middle">240</text>
<text x="526.9" y="980.6" font-family='"DejaVu Sans", "Liberation Sans", sans-serif' font-size="30" fill="#000" text-anchor="middle">300</text>
<text x="612.7" y="980.6" font-family='"DejaVu Sans", "Liberation Sans", sans-serif' font-size="30" fill="#000" text-anchor="middle">360</text>
<text transform="translate(30.4,625.6) rotate(-90)" font-family='"Liberation Sans", sans-serif' font-size="32" font-weight="bold" fill="#000" textLength="283.5" lengthAdjust="spacingAndGlyphs">Spiral Radius [mm]</text>
<text x="237.5" y="1018.6" font-family='"Liberation Sans", sans-serif' font-size="32" font-weight="bold" fill="#000" textLength="233.5" lengthAdjust="spacingAndGlyphs">Angle [degrees]</text>
<text x="22.4" y="946.6" font-family='"DejaVu Serif", "Liberation Serif", serif' font-size="43" font-weight="bold" font-style="italic" fill="#000" textLength="26.5" lengthAdjust="spacingAndGlyphs">a</text>
<rect x="645" y="26" width="45.2" height="915.4" fill="url(#cb)" stroke="#000" stroke-width="3.4"/>
<text x="701.3" y="37.3" font-family='"DejaVu Sans", "Liberation Sans", sans-serif' font-size="30" fill="#000">0.275</text>
<text x="701.3" y="128.8" font-family='"DejaVu Sans", "Liberation Sans", sans-serif' font-size="30" fill="#000">0.260</text>
<text x="701.3" y="220.4" font-family='"DejaVu Sans", "Liberation Sans", sans-serif' font-size="30" fill="#000">0.245</text>
<text x="701.3" y="311.9" font-family='"DejaVu Sans", "Liberation Sans", sans-serif' font-size="30" fill="#000">0.230</text>
<text x="701.3" y="403.5" font-family='"DejaVu Sans", "Liberation Sans", sans-serif' font-size="30" fill="#000">0.215</text>
<text x="701.3" y="495" font-family='"DejaVu Sans", "Liberation Sans", sans-serif' font-size="30" fill="#000">0.200</text>
<text x="701.3" y="586.5" font-family='"DejaVu Sans", "Liberation Sans", sans-serif' font-size="30" fill="#000">0.185</text>
<text x="701.3" y="678.1" font-family='"DejaVu Sans", "Liberation Sans", sans-serif' font-size="30" fill="#000">0.170</text>
<text x="701.3" y="769.6" font-family='"DejaVu Sans", "Liberation Sans", sans-serif' font-size="30" fill="#000">0.155</text>
<text x="701.3" y="861.2" font-family='"DejaVu Sans", "Liberation Sans", sans-serif' font-size="30" fill="#000">0.140</text>
<text x="701.3" y="952.7" font-family='"DejaVu Sans", "Liberation Sans", sans-serif' font-size="30" fill="#000">0.125</text>
<path d="M691.2,26 h5.2 M691.2,117.5 h5.2 M691.2,209.1 h5.2 M691.2,300.6 h5.2 M691.2,392.2 h5.2 M691.2,483.7 h5.2 M691.2,575.2 h5.2 M691.2,666.8 h5.2 M691.2,758.3 h5.2 M691.2,849.9 h5.2 M691.2,941.4 h5.2" stroke="#000" stroke-width="3.4" fill="none"/>
<text transform="translate(819,600) rotate(-90)" font-family='"Liberation Sans", sans-serif' font-size="32" font-weight="bold" fill="#000" textLength="232.7" lengthAdjust="spacingAndGlyphs">Thickness [mm]</text>
<path d="M1032,15 V410 M1032,349 h8.5 M1032,288 h8.5 M1032,227 h8.5 M1032,166 h8.5 M1032,105 h8.5 M1032,44 h8.5" stroke="#0fb050" stroke-width="5.3" fill="none"/>
<path d="M1675.6,12.2 V409.6 M1675.6,330.8 h-10.5 M1675.6,251.6 h-10.5 M1675.6,172.4 h-10.5 M1675.6,93.2 h-10.5" stroke="#3f4a8f" stroke-width="5.4" fill="none"/>
<path d="M1034.2,15 H1672.9 M1029.3,410 H1675.6" stroke="#000" stroke-width="5.6" fill="none"/>
<path d="M1031.9,408 v-6.5 M1099.5,17 v3.8 M1099.5,408 v-6.5 M1167.2,17 v3.8 M1167.2,408 v-6.5 M1234.9,17 v3.8 M1234.9,408 v-6.5 M1302.7,17 v3.8 M1302.7,408 v-6.5 M1370.3,17 v3.8 M1370.3,408 v-6.5 M1438,17 v3.8 M1438,408 v-6.5 M1505.8,17 v3.8 M1505.8,408 v-6.5 M1573.4,17 v3.8 M1573.4,408 v-6.5 M1641.2,17 v3.8 M1641.2,408 v-6.5" stroke="#000" stroke-width="5.2" fill="none"/>
<path d="M1665.6,15 H1678.3" stroke="#3f4a8f" stroke-width="5.6" fill="none"/>
<text x="1003.6" y="419.9" font-family='"Liberation Sans", sans-serif' font-size="28.6" font-weight="bold" fill="#0fb050" text-anchor="end">0.22</text>
<text x="1003.6" y="358.9" font-family='"Liberation Sans", sans-serif' font-size="28.6" font-weight="bold" fill="#0fb050" text-anchor="end">0.221</text>
<text x="1003.6" y="297.9" font-family='"Liberation Sans", sans-serif' font-size="28.6" font-weight="bold" fill="#0fb050" text-anchor="end">0.222</text>
<text x="1003.6" y="236.9" font-family='"Liberation Sans", sans-serif' font-size="28.6" font-weight="bold" fill="#0fb050" text-anchor="end">0.223</text>
<text x="1003.6" y="175.9" font-family='"Liberation Sans", sans-serif' font-size="28.6" font-weight="bold" fill="#0fb050" text-anchor="end">0.224</text>
<text x="1003.6" y="114.9" font-family='"Liberation Sans", sans-serif' font-size="28.6" font-weight="bold" fill="#0fb050" text-anchor="end">0.225</text>
<text x="1003.6" y="53.9" font-family='"Liberation Sans", sans-serif' font-size="28.6" font-weight="bold" fill="#0fb050" text-anchor="end">0.226</text>
<text x="1703.4" y="419.8" font-family='"Liberation Sans", sans-serif' font-size="28.6" font-weight="bold" fill="#3f4a8f">0.156</text>
<text x="1703.4" y="340.7" font-family='"Liberation Sans", sans-serif' font-size="28.6" font-weight="bold" fill="#3f4a8f">0.157</text>
<text x="1703.4" y="261.6" font-family='"Liberation Sans", sans-serif' font-size="28.6" font-weight="bold" fill="#3f4a8f">0.158</text>
<text x="1703.4" y="182.5" font-family='"Liberation Sans", sans-serif' font-size="28.6" font-weight="bold" fill="#3f4a8f">0.159</text>
<text x="1703.4" y="103.4" font-family='"Liberation Sans", sans-serif' font-size="28.6" font-weight="bold" fill="#3f4a8f">0.16</text>
<text x="1703.4" y="24.3" font-family='"Liberation Sans", sans-serif' font-size="28.6" font-weight="bold" fill="#3f4a8f">0.161</text>
<text x="1031.8" y="460.4" font-family='"Liberation Sans", sans-serif' font-size="28.6" font-weight="bold" fill="#000" text-anchor="middle">2.4</text>
<text x="1099.5" y="460.4" font-family='"Liberation Sans", sans-serif' font-size="28.6" font-weight="bold" fill="#000" text-anchor="middle">2.6</text>
<text x="1167.2" y="460.4" font-family='"Liberation Sans", sans-serif' font-size="28.6" font-weight="bold" fill="#000" text-anchor="middle">2.8</text>
<text x="1234.9" y="460.4" font-family='"Liberation Sans", sans-serif' font-size="28.6" font-weight="bold" fill="#000" text-anchor="middle">3.0</text>
<text x="1302.7" y="460.4" font-family='"Liberation Sans", sans-serif' font-size="28.6" font-weight="bold" fill="#000" text-anchor="middle">3.2</text>
<text x="1370.3" y="460.4" font-family='"Liberation Sans", sans-serif' font-size="28.6" font-weight="bold" fill="#000" text-anchor="middle">3.4</text>
<text x="1438" y="460.4" font-family='"Liberation Sans", sans-serif' font-size="28.6" font-weight="bold" fill="#000" text-anchor="middle">3.6</text>
<text x="1505.8" y="460.4" font-family='"Liberation Sans", sans-serif' font-size="28.6" font-weight="bold" fill="#000" text-anchor="middle">3.8</text>
<text x="1573.4" y="460.4" font-family='"Liberation Sans", sans-serif' font-size="28.6" font-weight="bold" fill="#000" text-anchor="middle">4.0</text>
<text x="1641.2" y="460.4" font-family='"Liberation Sans", sans-serif' font-size="28.6" font-weight="bold" fill="#000" text-anchor="middle">4.2</text>
<text x="1353" y="503.4" font-family='"Liberation Sans", sans-serif' font-size="29" font-weight="bold" fill="#000" text-anchor="middle" textLength="161" lengthAdjust="spacingAndGlyphs">Potential [V]</text>
<text transform="translate(900.8,390.3) rotate(-90)" font-family='"Liberation Sans", sans-serif' font-size="27.8" font-weight="bold" fill="#0fb050" textLength="355.5" lengthAdjust="spacingAndGlyphs">Anode layer thickness [mm]</text>
<text transform="translate(1810.4,404) rotate(-90)" font-family='"Liberation Sans", sans-serif' font-size="27.8" font-weight="bold" fill="#3f4a8f" textLength="381" lengthAdjust="spacingAndGlyphs">Cathode layer thickness [mm]</text>
<text x="901" y="467.8" font-family='"Liberation Sans", sans-serif' font-size="43" font-weight="bold" font-style="italic" fill="#000" textLength="23.5" lengthAdjust="spacingAndGlyphs">b</text>
<path d="M1065.7,19 l9.3,18.4 h-18.6 Z M1201.1,36.6 l9.3,18.4 h-18.6 Z M1234.9,52.4 l9.3,18.4 h-18.6 Z M1268.8,73.3 l9.3,18.4 h-18.6 Z M1302.7,46.1 l9.3,18.4 h-18.6 Z M1336.5,44.2 l9.3,18.4 h-18.6 Z M1370.3,50.8 l9.3,18.4 h-18.6 Z M1404.2,93.1 l9.3,18.4 h-18.6 Z M1438,78.6 l9.3,18.4 h-18.6 Z M1471.9,68.5 l9.3,18.4 h-18.6 Z M1505.8,112.8 l9.3,18.4 h-18.6 Z M1539.6,96.7 l9.3,18.4 h-18.6 Z M1573.4,150.9 l9.3,18.4 h-18.6 Z M1607.3,287.3 l9.3,18.4 h-18.6 Z M1641.2,394 l9.3,18.4 h-18.6 Z" stroke="#3f4a8f" stroke-width="4.4" fill="none" stroke-linejoin="round"/>
<g stroke="#0fb050" stroke-width="4.4" fill="none"><circle cx="1065.7" cy="341" r="9.25"/><circle cx="1201.1" cy="365.9" r="9.25"/><circle cx="1234.9" cy="365" r="9.25"/><circle cx="1268.8" cy="398.9" r="9.25"/><circle cx="1302.7" cy="367.8" r="9.25"/><circle cx="1336.5" cy="358.7" r="9.25"/><circle cx="1370.3" cy="353.1" r="9.25"/><circle cx="1404.2" cy="359.7" r="9.25"/><circle cx="1438" cy="301.2" r="9.25"/><circle cx="1471.9" cy="290.9" r="9.25"/><circle cx="1505.8" cy="314.2" r="9.25"/><circle cx="1539.6" cy="259.9" r="9.25"/><circle cx="1573.4" cy="212.1" r="9.25"/><circle cx="1607.3" cy="128.2" r="9.25"/><circle cx="1641.2" cy="42.5" r="9.25"/></g>
<path d="M1045.1,910.5 V877.1 h6.7 V910.5 Z M1058.4,910.5 V538.3 h6.7 V910.5 Z M1071.8,910.5 V652.2 h6.7 V910.5 Z M1085.2,910.5 V847.3 h6.7 V910.5 Z M1098.5,910.5 V881.3 h6.7 V910.5 Z M1111.9,910.5 V892.8 h6.7 V910.5 Z M1125.3,910.5 V899.2 h6.7 V910.5 Z M1138.6,910.5 V903.4 h6.7 V910.5 Z M1152,910.5 V904.9 h6.7 V910.5 Z M1165.4,910.5 V906.2 h6.7 V910.5 Z M1178.7,910.5 V906.8 h6.7 V910.5 Z M1192.1,910.5 V907.3 h6.7 V910.5 Z M1459.4,910.5 V900.1 h6.7 V910.5 Z M1472.8,910.5 V865.5 h6.7 V910.5 Z M1486.2,910.5 V802.7 h6.7 V910.5 Z M1499.5,910.5 V775.3 h6.7 V910.5 Z M1512.9,910.5 V801 h6.7 V910.5 Z M1526.3,910.5 V839.4 h6.7 V910.5 Z M1539.6,910.5 V853 h6.7 V910.5 Z M1553,910.5 V861.5 h6.7 V910.5 Z M1566.4,910.5 V874.9 h6.7 V910.5 Z M1579.7,910.5 V887.6 h6.7 V910.5 Z M1593.1,910.5 V892.7 h6.7 V910.5 Z M1606.5,910.5 V900.9 h6.7 V910.5 Z M1619.8,910.5 V900.9 h6.7 V910.5 Z M1633.2,910.5 V900.9 h6.7 V910.5 Z M1646.6,910.5 V902.3 h6.7 V910.5 Z M1659.9,910.5 V905.1 h6.7 V910.5 Z" fill="#a8a8a8"/>
<path d="M1065.1,910.5 V897 h6.7 V910.5 Z M1078.5,910.5 V668 h6.7 V910.5 Z M1091.9,910.5 V562.2 h6.7 V910.5 Z M1105.2,910.5 V807.6 h6.7 V910.5 Z M1118.6,910.5 V871.9 h6.7 V910.5 Z M1132,910.5 V889.2 h6.7 V910.5 Z M1145.3,910.5 V895.4 h6.7 V910.5 Z M1158.7,910.5 V902.7 h6.7 V910.5 Z M1172.1,910.5 V904.9 h6.7 V910.5 Z M1185.4,910.5 V904.9 h6.7 V910.5 Z M1198.8,910.5 V905.2 h6.7 V910.5 Z M1212.2,910.5 V906.2 h6.7 V910.5 Z M1412.7,910.5 V901.9 h6.7 V910.5 Z M1426,910.5 V871.2 h6.7 V910.5 Z M1439.4,910.5 V818.7 h6.7 V910.5 Z M1452.8,910.5 V782.5 h6.7 V910.5 Z M1466.1,910.5 V797 h6.7 V910.5 Z M1479.5,910.5 V832.7 h6.7 V910.5 Z M1492.9,910.5 V857.7 h6.7 V910.5 Z M1506.2,910.5 V857.7 h6.7 V910.5 Z M1519.6,910.5 V870.2 h6.7 V910.5 Z M1533,910.5 V880 h6.7 V910.5 Z M1546.3,910.5 V889.1 h6.7 V910.5 Z M1559.7,910.5 V897.6 h6.7 V910.5 Z M1573.1,910.5 V899.1 h6.7 V910.5 Z M1586.4,910.5 V899.1 h6.7 V910.5 Z M1599.8,910.5 V900.9 h6.7 V910.5 Z M1613.2,910.5 V901.9 h6.7 V910.5 Z M1626.5,910.5 V904.7 h6.7 V910.5 Z M1639.9,910.5 V905.2 h6.7 V910.5 Z M1653.3,910.5 V906.2 h6.7 V910.5 Z M1666.6,910.5 V906.2 h6.7 V910.5 Z" fill="#ef8033"/>
<path d="M1125.3,910.5 v-10.6 M1218.8,910.5 v-10.6 M1312.4,910.5 v-10.6 M1406,910.5 v-10.6 M1499.5,910.5 v-10.6 M1593.1,910.5 v-10.6 M1034,854.1 h6.8 M1034,797.7 h6.8 M1034,741.3 h6.8 M1034,684.9 h6.8 M1034,628.5 h6.8 M1034,572.1 h6.8" stroke="#000" stroke-width="5" fill="none"/>
<rect x="1032" y="515.7" width="641.6" height="394.8" fill="none" stroke="#000" stroke-width="5.4" stroke-linejoin="round"/>
<text x="1003.4" y="919.8" font-family='"Liberation Sans", sans-serif' font-size="28.6" font-weight="bold" fill="#000" text-anchor="end">0</text>
<text x="1003.4" y="863.4" font-family='"Liberation Sans", sans-serif' font-size="28.6" font-weight="bold" fill="#000" text-anchor="end">500</text>
<text x="1003.4" y="807" font-family='"Liberation Sans", sans-serif' font-size="28.6" font-weight="bold" fill="#000" text-anchor="end">1000</text>
<text x="1003.4" y="750.6" font-family='"Liberation Sans", sans-serif' font-size="28.6" font-weight="bold" fill="#000" text-anchor="end">1500</text>
<text x="1003.4" y="694.2" font-family='"Liberation Sans", sans-serif' font-size="28.6" font-weight="bold" fill="#000" text-anchor="end">2000</text>
<text x="1003.4" y="637.8" font-family='"Liberation Sans", sans-serif' font-size="28.6" font-weight="bold" fill="#000" text-anchor="end">2500</text>
<text x="1003.4" y="581.4" font-family='"Liberation Sans", sans-serif' font-size="28.6" font-weight="bold" fill="#000" text-anchor="end">3000</text>
<text x="1003.4" y="525" font-family='"Liberation Sans", sans-serif' font-size="28.6" font-weight="bold" fill="#000" text-anchor="end">3500</text>
<text x="1031.7" y="960" font-family='"Liberation Sans", sans-serif' font-size="28.6" font-weight="bold" fill="#000" text-anchor="middle">0.15</text>
<text x="1125.3" y="960" font-family='"Liberation Sans", sans-serif' font-size="28.6" font-weight="bold" fill="#000" text-anchor="middle">0.17</text>
<text x="1218.8" y="960" font-family='"Liberation Sans", sans-serif' font-size="28.6" font-weight="bold" fill="#000" text-anchor="middle">0.18</text>
<text x="1312.4" y="960" font-family='"Liberation Sans", sans-serif' font-size="28.6" font-weight="bold" fill="#000" text-anchor="middle">0.19</text>
<text x="1406" y="960" font-family='"Liberation Sans", sans-serif' font-size="28.6" font-weight="bold" fill="#000" text-anchor="middle">0.21</text>
<text x="1499.5" y="960" font-family='"Liberation Sans", sans-serif' font-size="28.6" font-weight="bold" fill="#000" text-anchor="middle">0.22</text>
<text x="1593.1" y="960" font-family='"Liberation Sans", sans-serif' font-size="28.6" font-weight="bold" fill="#000" text-anchor="middle">0.24</text>
<text x="1353" y="1003.5" font-family='"Liberation Sans", sans-serif' font-size="29" font-weight="bold" fill="#000" text-anchor="middle" textLength="199.5" lengthAdjust="spacingAndGlyphs">Thickness [mm]</text>
<text transform="translate(926.4,713) rotate(-90)" font-family='"Liberation Sans", sans-serif' font-size="29" font-weight="bold" fill="#000" text-anchor="middle" textLength="89" lengthAdjust="spacingAndGlyphs">Counts</text>
<text x="904.2" y="946.3" font-family='"Liberation Sans", sans-serif' font-size="41" font-weight="bold" font-style="italic" fill="#000" textLength="19.5" lengthAdjust="spacingAndGlyphs">c</text>
<rect x="1686.9" y="541.5" width="17.4" height="17.7" fill="#ef8033"/><rect x="1686.9" y="588.4" width="17.4" height="17.9" fill="#a8a8a8"/>
<text x="1711.6" y="559.8" font-family='"Liberation Sans", sans-serif' font-size="29" font-weight="bold" fill="#000" textLength="65.5" lengthAdjust="spacingAndGlyphs">2.5 V</text>
<text x="1711.6" y="607" font-family='"Liberation Sans", sans-serif' font-size="29" font-weight="bold" fill="#000" textLength="65.5" lengthAdjust="spacingAndGlyphs">4.2 V</text></g></svg></body></html>
